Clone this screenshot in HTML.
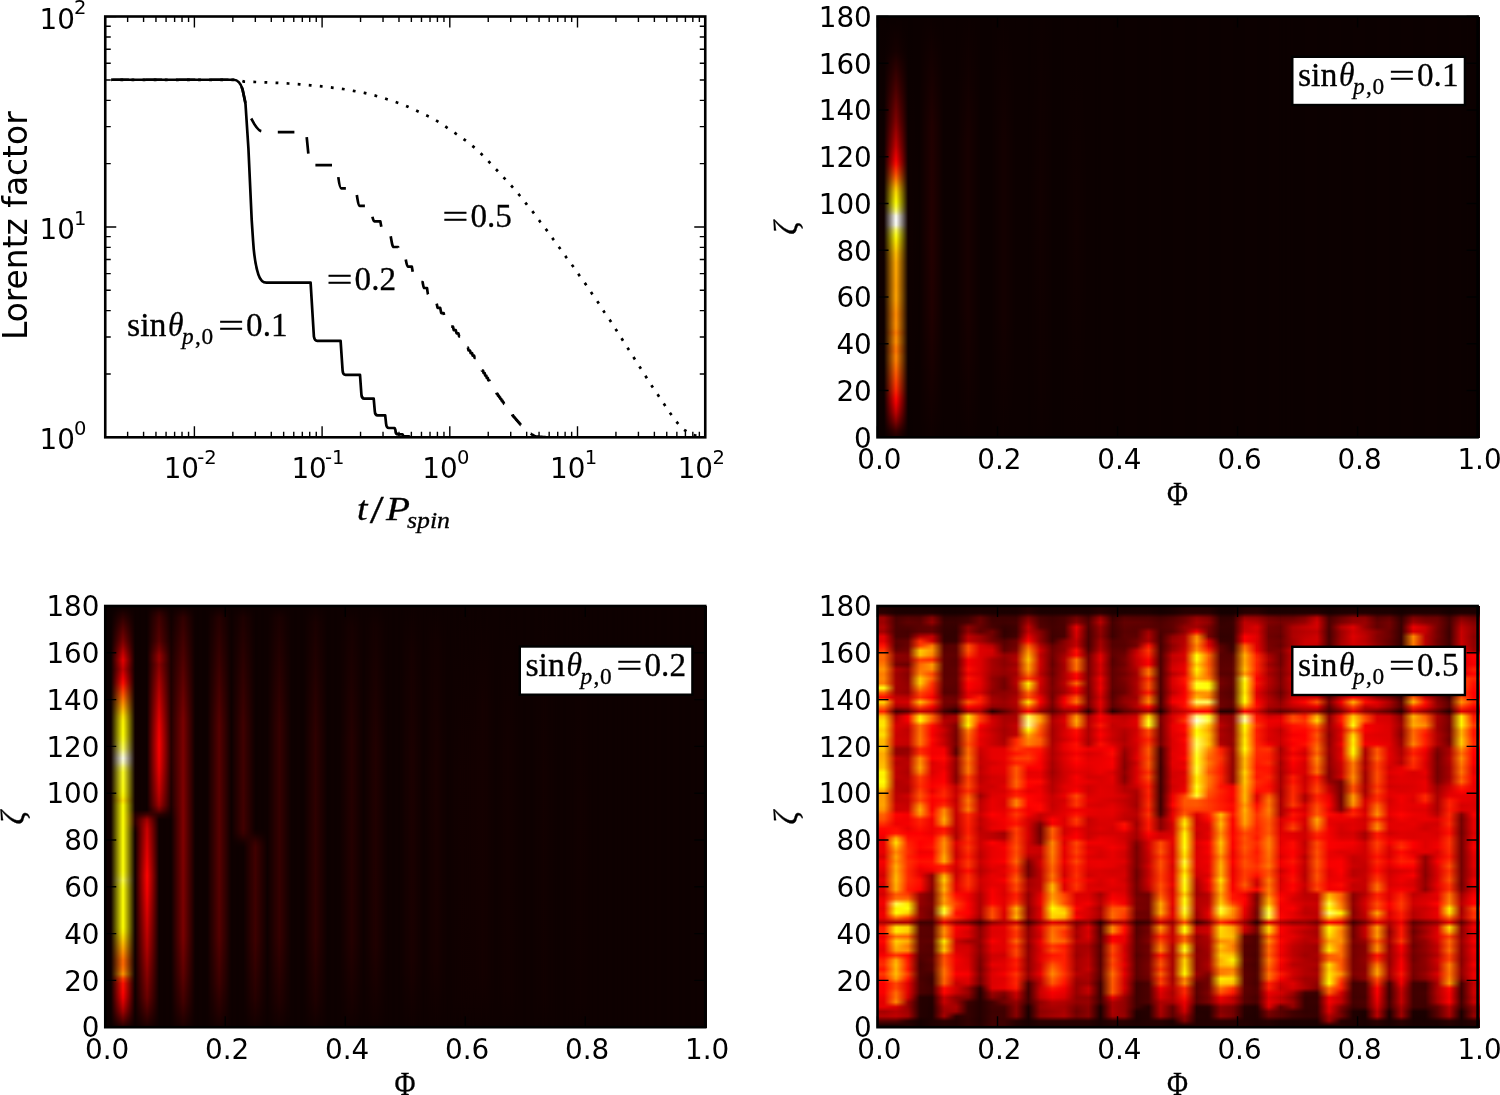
<!DOCTYPE html>
<html><head><meta charset="utf-8"><title>Lorentz factor and sky maps</title>
<style>
html,body{margin:0;padding:0;background:#fff}
body{width:1500px;height:1095px;position:relative;overflow:hidden}
.hm{position:absolute;overflow:hidden;background:#0b0000}
.hm i{position:absolute;top:0;height:100%;width:24.06px;display:block}
.la,.lb{position:absolute;top:0;height:100%}
.la{left:0;width:100%}
.lb{left:6.015px;width:620px;-webkit-mask-image:repeating-linear-gradient(90deg,transparent 0,#000 12.03px,transparent 24.06px);mask-image:repeating-linear-gradient(90deg,transparent 0,#000 12.03px,transparent 24.06px)}
svg{position:absolute;left:0;top:0}
.t{font-family:"DejaVu Sans","Liberation Sans",sans-serif;font-size:27.8px;fill:#000}
.sup{font-size:19.5px}
.l{font-family:"DejaVu Sans","Liberation Sans",sans-serif;font-size:33.3px;fill:#000}
.m{font-family:"Liberation Serif","DejaVu Serif",serif;font-size:33.3px;fill:#000;stroke:#000;stroke-width:.3px}
.mi{font-family:"Liberation Serif","DejaVu Serif",serif;font-size:33.3px;font-style:italic;fill:#000;stroke:#000;stroke-width:.3px}
.s{font-size:23.3px}
</style></head><body>
<div class="hm" style="left:877.50px;top:16.50px;width:602.60px;height:421.40px">
<div class="la">
<i style="left:-6.015px;background:linear-gradient(#0b0000 0.5556%,#0e0000 38.33%,#100000 52.78%,#0b0000 99.44%)"></i>
<i style="left:18.045px;background:linear-gradient(#0b0000 0.5556%,#0e0000 38.33%,#100000 52.78%,#0b0000 99.44%)"></i>
<i style="left:42.105px;background:linear-gradient(#0d0000 0.5556%,#1a0000 17.22%,#210000 26.11%,#240000 52.78%,#200000 70.56%,#0f0000 99.44%)"></i>
<i style="left:66.165px;background:linear-gradient(#0c0000 0.5556%,#0c0000 99.44%)"></i>
<i style="left:90.225px;background:linear-gradient(#0c0000 0.5556%,#0c0000 99.44%)"></i>
<i style="left:114.285px;background:linear-gradient(#0d0000 0.5556%,#140000 29.44%,#140000 71.67%,#0d0000 99.44%)"></i>
<i style="left:138.345px;background:linear-gradient(#0c0000 0.5556%,#0c0000 99.44%)"></i>
<i style="left:162.405px;background:linear-gradient(#0c0000 0.5556%,#0c0000 99.44%)"></i>
<i style="left:186.465px;background:linear-gradient(#0c0000 0.5556%,#100 50.56%,#0d0000 99.44%)"></i>
<i style="left:210.525px;background:linear-gradient(#0c0000 0.5556%,#0c0000 99.44%)"></i>
<i style="left:234.585px;background:linear-gradient(#0c0000 0.5556%,#0c0000 99.44%)"></i>
<i style="left:258.645px;background:linear-gradient(#0c0000 0.5556%,#0c0000 99.44%)"></i>
<i style="left:282.705px;background:linear-gradient(#0c0000 0.5556%,#0c0000 99.44%)"></i>
<i style="left:306.765px;background:linear-gradient(#0c0000 0.5556%,#0c0000 99.44%)"></i>
<i style="left:330.825px;background:linear-gradient(#0c0000 0.5556%,#0c0000 99.44%)"></i>
<i style="left:354.885px;background:linear-gradient(#0c0000 0.5556%,#0c0000 99.44%)"></i>
<i style="left:378.945px;background:linear-gradient(#0c0000 0.5556%,#0c0000 99.44%)"></i>
<i style="left:403.005px;background:linear-gradient(#0c0000 0.5556%,#0c0000 99.44%)"></i>
<i style="left:427.065px;background:linear-gradient(#0c0000 0.5556%,#0c0000 99.44%)"></i>
<i style="left:451.125px;background:linear-gradient(#0c0000 0.5556%,#0c0000 99.44%)"></i>
<i style="left:475.185px;background:linear-gradient(#0c0000 0.5556%,#0c0000 99.44%)"></i>
<i style="left:499.245px;background:linear-gradient(#0c0000 0.5556%,#0c0000 99.44%)"></i>
<i style="left:523.305px;background:linear-gradient(#0c0000 0.5556%,#0c0000 99.44%)"></i>
<i style="left:547.365px;background:linear-gradient(#0c0000 0.5556%,#0c0000 99.44%)"></i>
<i style="left:571.425px;background:linear-gradient(#0c0000 0.5556%,#0c0000 99.44%)"></i>
</div><div class="lb">
<i style="left:0.000px;background:linear-gradient(#0b0000 0.5556%,#170000 8.333%,#4c0000 17.22%,#840000 25%,#c10000 30.56%,#f50000 33.89%,#ff0e00 35%,#ff4b00 37.22%,#ff6f00 38.33%,#ffc000 40.56%,#ffdc00 41.67%,#fffd00 43.89%,#ffff2d 45%,#ffff76 46.11%,#ffffed 47.22%,#fff 48.33%,#ffffed 49.44%,#ffff64 50.56%,#ffff21 51.67%,#fff500 52.78%,#ffbd00 56.11%,#ffa900 58.33%,#ff9e00 63.89%,#ffa200 66.11%,#ffa000 67.22%,#ff8900 70.56%,#ff9000 72.78%,#ff8d00 73.89%,#ff7900 75%,#ff8b00 76.11%,#ff8f00 77.22%,#ff7900 78.33%,#ff7300 79.44%,#ff8300 80.56%,#ff7f00 81.67%,#ff2b00 88.33%,#ff0600 90.56%,#f20000 91.67%,#c10000 93.89%,#830000 96.11%,#3b0000 98.33%,#270000 99.44%)"></i>
<i style="left:24.060px;background:linear-gradient(#0c0000 0.5556%,#0c0000 99.44%)"></i>
<i style="left:48.120px;background:linear-gradient(#0c0000 0.5556%,#0c0000 99.44%)"></i>
<i style="left:72.180px;background:linear-gradient(#0d0000 0.5556%,#180000 29.44%,#180000 69.44%,#0e0000 99.44%)"></i>
<i style="left:96.240px;background:linear-gradient(#0c0000 0.5556%,#0c0000 99.44%)"></i>
<i style="left:120.300px;background:linear-gradient(#0c0000 0.5556%,#0c0000 99.44%)"></i>
<i style="left:144.360px;background:linear-gradient(#0d0000 0.5556%,#120000 42.78%,#0f0000 89.44%,#0d0000 99.44%)"></i>
<i style="left:168.420px;background:linear-gradient(#0c0000 0.5556%,#0c0000 99.44%)"></i>
<i style="left:192.480px;background:linear-gradient(#0c0000 0.5556%,#0c0000 99.44%)"></i>
<i style="left:216.540px;background:linear-gradient(#0c0000 0.5556%,#0c0000 99.44%)"></i>
<i style="left:240.600px;background:linear-gradient(#0c0000 0.5556%,#0c0000 99.44%)"></i>
<i style="left:264.660px;background:linear-gradient(#0c0000 0.5556%,#0c0000 99.44%)"></i>
<i style="left:288.720px;background:linear-gradient(#0c0000 0.5556%,#0c0000 99.44%)"></i>
<i style="left:312.780px;background:linear-gradient(#0c0000 0.5556%,#0c0000 99.44%)"></i>
<i style="left:336.840px;background:linear-gradient(#0c0000 0.5556%,#0c0000 99.44%)"></i>
<i style="left:360.900px;background:linear-gradient(#0c0000 0.5556%,#0c0000 99.44%)"></i>
<i style="left:384.960px;background:linear-gradient(#0c0000 0.5556%,#0c0000 99.44%)"></i>
<i style="left:409.020px;background:linear-gradient(#0c0000 0.5556%,#0c0000 99.44%)"></i>
<i style="left:433.080px;background:linear-gradient(#0c0000 0.5556%,#0c0000 99.44%)"></i>
<i style="left:457.140px;background:linear-gradient(#0c0000 0.5556%,#0c0000 99.44%)"></i>
<i style="left:481.200px;background:linear-gradient(#0c0000 0.5556%,#0c0000 99.44%)"></i>
<i style="left:505.260px;background:linear-gradient(#0c0000 0.5556%,#0c0000 99.44%)"></i>
<i style="left:529.320px;background:linear-gradient(#0c0000 0.5556%,#0c0000 99.44%)"></i>
<i style="left:553.380px;background:linear-gradient(#0c0000 0.5556%,#0c0000 99.44%)"></i>
<i style="left:577.440px;background:linear-gradient(#0c0000 0.5556%,#0c0000 99.44%)"></i>
</div>
<i style="left:595.485px;background:linear-gradient(#0c0000 0.5556%,#0c0000 99.44%)"></i>
</div>
<div class="hm" style="left:105.25px;top:606.00px;width:602.00px;height:421.80px">
<div class="la">
<i style="left:-6.015px;background:linear-gradient(#0b0000 0.5556%,#100000 42.78%,#0e0000 88.33%,#0b0000 99.44%)"></i>
<i style="left:18.045px;background:linear-gradient(#0e0000 0.5556%,#100000 48.33%,#240000 49.44%,#2d0000 50.56%,#280000 51.67%,#180000 52.78%,#100000 53.89%,#0e0000 99.44%)"></i>
<i style="left:42.105px;background:linear-gradient(#1a0000 0.5556%,#320000 1.667%,#410000 2.778%,#570000 8.333%,#7b0000 10.56%,#940000 11.67%,#980000 12.78%,#870000 13.89%,#ab0000 18.33%,#eb0000 28.33%,#f90000 32.78%,#f30000 36.11%,#eb0000 38.33%,#c50000 43.89%,#b00000 46.11%,#a00000 47.22%,#6f0000 48.33%,#2c0000 49.44%,#0e0000 50.56%,#0e0000 99.44%)"></i>
<i style="left:66.165px;background:linear-gradient(#150000 0.5556%,#320000 2.778%,#7a0000 27.22%,#810000 52.78%,#7a0000 78.33%,#5e0000 87.22%,#410000 93.89%,#1d0000 99.44%)"></i>
<i style="left:90.225px;background:linear-gradient(#0e0000 0.5556%,#0e0000 99.44%)"></i>
<i style="left:114.285px;background:linear-gradient(#0e0000 0.5556%,#0e0000 99.44%)"></i>
<i style="left:138.345px;background:linear-gradient(#0e0000 0.5556%,#0e0000 52.78%,#160000 53.89%,#390000 56.11%,#410000 57.22%,#3d0000 79.44%,#270000 92.78%,#150000 99.44%)"></i>
<i style="left:162.405px;background:linear-gradient(#100000 0.5556%,#1b0000 2.778%,#360000 28.33%,#360000 78.33%,#210000 93.89%,#130000 99.44%)"></i>
<i style="left:186.465px;background:linear-gradient(#0e0000 0.5556%,#0e0000 99.44%)"></i>
<i style="left:210.525px;background:linear-gradient(#0e0000 0.5556%,#0e0000 99.44%)"></i>
<i style="left:234.585px;background:linear-gradient(#0f0000 0.5556%,#170000 5%,#250000 31.67%,#240000 79.44%,#170000 95%,#100 99.44%)"></i>
<i style="left:258.645px;background:linear-gradient(#0f0000 0.5556%,#150000 5%,#200 33.89%,#200000 80.56%,#120000 98.33%,#100000 99.44%)"></i>
<i style="left:282.705px;background:linear-gradient(#0e0000 0.5556%,#0e0000 99.44%)"></i>
<i style="left:306.765px;background:linear-gradient(#0e0000 0.5556%,#0e0000 99.44%)"></i>
<i style="left:330.825px;background:linear-gradient(#0e0000 0.5556%,#0e0000 99.44%)"></i>
<i style="left:354.885px;background:linear-gradient(#0e0000 0.5556%,#130000 39.44%,#100 92.78%,#0e0000 99.44%)"></i>
<i style="left:378.945px;background:linear-gradient(#0e0000 0.5556%,#0e0000 99.44%)"></i>
<i style="left:403.005px;background:linear-gradient(#0e0000 0.5556%,#0e0000 99.44%)"></i>
<i style="left:427.065px;background:linear-gradient(#0e0000 0.5556%,#130000 39.44%,#100 92.78%,#0e0000 99.44%)"></i>
<i style="left:451.125px;background:linear-gradient(#0e0000 0.5556%,#0e0000 99.44%)"></i>
<i style="left:475.185px;background:linear-gradient(#0e0000 0.5556%,#0e0000 99.44%)"></i>
<i style="left:499.245px;background:linear-gradient(#0e0000 0.5556%,#0e0000 99.44%)"></i>
<i style="left:523.305px;background:linear-gradient(#0e0000 0.5556%,#0e0000 99.44%)"></i>
<i style="left:547.365px;background:linear-gradient(#0e0000 0.5556%,#0e0000 99.44%)"></i>
<i style="left:571.425px;background:linear-gradient(#0e0000 0.5556%,#0e0000 99.44%)"></i>
</div><div class="lb">
<i style="left:0.000px;background:linear-gradient(#120000 0.5556%,#7c0000 8.333%,#940000 9.444%,#cd0000 11.67%,#e60000 12.78%,#c10000 15%,#f20000 17.22%,#ff0e00 18.33%,#ffe300 26.11%,#fff500 27.22%,#fffe00 29.44%,#ffff05 30.56%,#ffff1b 31.67%,#ffff64 33.89%,#ffffad 35%,#ffffe8 36.11%,#ffb 37.22%,#ffff5b 38.33%,#ffff24 39.44%,#ffff0c 43.89%,#fff900 45%,#ffe000 46.11%,#ff0 47.22%,#ffff08 62.78%,#ffff1e 63.89%,#ffff48 65%,#ffff1e 66.11%,#ffff08 67.22%,#ff0 76.11%,#fff400 77.22%,#ffb000 80.56%,#ff6b00 83.89%,#ff6900 85%,#ff7900 86.11%,#ff9700 87.22%,#ff3c00 88.33%,#f10 89.44%,#ff0300 91.67%,#f20000 92.78%,#be0000 95%,#a00000 96.11%,#2f0000 99.44%)"></i>
<i style="left:24.060px;background:linear-gradient(#0e0000 0.5556%,#0e0000 48.33%,#400 49.44%,#a00000 50.56%,#bc0000 51.67%,#cd0000 52.78%,#e90000 59.44%,#ff0200 63.89%,#f70000 67.22%,#d00000 75%,#b50000 80.56%,#920000 86.11%,#6c0000 92.78%,#540000 95%,#2c0000 98.33%,#200000 99.44%)"></i>
<i style="left:48.120px;background:linear-gradient(#0f0000 0.5556%,#150000 7.222%,#1b0000 12.78%,#250000 35%,#1c0000 47.22%,#0e0000 50.56%,#0e0000 99.44%)"></i>
<i style="left:72.180px;background:linear-gradient(#0e0000 0.5556%,#0e0000 99.44%)"></i>
<i style="left:96.240px;background:linear-gradient(#120000 0.5556%,#260000 2.778%,#560000 28.33%,#590000 58.33%,#500 78.33%,#3d0000 89.44%,#260000 96.11%,#180000 99.44%)"></i>
<i style="left:120.300px;background:linear-gradient(#100 0.5556%,#1e0000 2.778%,#3f0000 28.33%,#410000 52.78%,#390000 53.89%,#160000 56.11%,#0e0000 57.22%,#0e0000 99.44%)"></i>
<i style="left:144.360px;background:linear-gradient(#0e0000 0.5556%,#0e0000 99.44%)"></i>
<i style="left:168.420px;background:linear-gradient(#0e0000 0.5556%,#0e0000 99.44%)"></i>
<i style="left:192.480px;background:linear-gradient(#100000 0.5556%,#190000 3.889%,#2e0000 30.56%,#2d0000 78.33%,#1d0000 93.89%,#120000 99.44%)"></i>
<i style="left:216.540px;background:linear-gradient(#0e0000 0.5556%,#0e0000 99.44%)"></i>
<i style="left:240.600px;background:linear-gradient(#0e0000 0.5556%,#0e0000 99.44%)"></i>
<i style="left:264.660px;background:linear-gradient(#0e0000 0.5556%,#0e0000 99.44%)"></i>
<i style="left:288.720px;background:linear-gradient(#0f0000 0.5556%,#160000 11.67%,#1c0000 35%,#1a0000 83.89%,#100000 99.44%)"></i>
<i style="left:312.780px;background:linear-gradient(#0e0000 0.5556%,#130000 8.333%,#190000 38.33%,#170000 83.89%,#0f0000 99.44%)"></i>
<i style="left:336.840px;background:linear-gradient(#0e0000 0.5556%,#130000 39.44%,#100 92.78%,#0e0000 99.44%)"></i>
<i style="left:360.900px;background:linear-gradient(#0e0000 0.5556%,#150000 23.89%,#140000 87.22%,#0f0000 99.44%)"></i>
<i style="left:384.960px;background:linear-gradient(#0e0000 0.5556%,#140000 35%,#120000 90.56%,#0f0000 99.44%)"></i>
<i style="left:409.020px;background:linear-gradient(#0e0000 0.5556%,#0e0000 99.44%)"></i>
<i style="left:433.080px;background:linear-gradient(#0e0000 0.5556%,#0e0000 99.44%)"></i>
<i style="left:457.140px;background:linear-gradient(#0e0000 0.5556%,#120000 47.22%,#100000 93.89%,#0e0000 99.44%)"></i>
<i style="left:481.200px;background:linear-gradient(#0e0000 0.5556%,#0e0000 99.44%)"></i>
<i style="left:505.260px;background:linear-gradient(#0e0000 0.5556%,#0e0000 99.44%)"></i>
<i style="left:529.320px;background:linear-gradient(#0e0000 0.5556%,#0e0000 99.44%)"></i>
<i style="left:553.380px;background:linear-gradient(#0e0000 0.5556%,#0e0000 99.44%)"></i>
<i style="left:577.440px;background:linear-gradient(#0e0000 0.5556%,#0e0000 99.44%)"></i>
</div>
<i style="left:595.485px;background:linear-gradient(#0e0000 0.5556%,#0e0000 99.44%)"></i>
</div>
<div class="hm" style="left:877.50px;top:606.00px;width:602.60px;height:421.80px">
<div class="la">
<i style="left:-6.015px;background:linear-gradient(#240000 0.5556%,#2b0000 1.667%,#9d0000 2.778%,#9c0000 3.889%,#ae0000 5%,#9f0000 6.111%,#e20000 7.222%,#e20000 8.333%,#ff1000 9.444%,#ff3600 10.56%,#ff6b00 11.67%,#f60 12.78%,#ff7a00 13.89%,#ff9500 15%,#ff7d00 16.11%,#ff8700 17.22%,#ff7a00 18.33%,#ff1 19.44%,#ff5f00 20.56%,#ff0a00 21.67%,#ffd900 22.78%,#ff7400 23.89%,#ff2300 25%,#ffb700 26.11%,#ffe100 27.22%,#ffe700 28.33%,#ffcd00 29.44%,#ffde00 30.56%,#ffbc00 31.67%,#ffb700 32.78%,#ffc700 33.89%,#fa0 35%,#ffaf00 36.11%,#ffc200 38.33%,#fff600 39.44%,#fff100 40.56%,#ffff04 41.67%,#ffe900 42.78%,#ffab00 43.89%,#ff9d00 45%,#ffa300 47.22%,#ff9200 48.33%,#ff6000 49.44%,#ff5200 50.56%,#ff0700 52.78%,#fd0000 53.89%,#e00 55%,#e90000 58.33%,#d50000 59.44%,#f70000 60.56%,#ef0000 61.67%,#d20000 63.89%,#e70000 65%,#d70000 66.11%,#e10000 67.22%,#d40000 68.33%,#ed0000 69.44%,#f30000 70.56%,#e50000 71.67%,#f00000 72.78%,#ec0000 73.89%,#ab0000 75%,#ff1600 76.11%,#ff1f00 77.22%,#f10000 78.33%,#ff0600 79.44%,#f20000 80.56%,#e80000 81.67%,#f90000 82.78%,#ff1e00 83.89%,#ff2c00 85%,#ff1200 86.11%,#ff3b00 87.22%,#ff1a00 88.33%,#fc0000 89.44%,#fb0000 91.67%,#ec0000 92.78%,#e30000 93.89%,#e70000 95%,#a40000 96.11%,#b80000 97.22%,#590000 98.33%,#1b0000 99.44%)"></i>
<i style="left:18.045px;background:linear-gradient(#1a0000 0.5556%,#1d0000 1.667%,#530000 2.778%,#5f0000 3.889%,#500000 5%,#460000 6.111%,#4a0000 7.222%,#650000 8.333%,#680000 9.444%,#730000 10.56%,#800 11.67%,#870000 12.78%,#6b0000 13.89%,#950000 15%,#800 16.11%,#970000 19.44%,#920000 20.56%,#bd0000 21.67%,#d50000 22.78%,#b30000 23.89%,#5b0000 25%,#f90000 26.11%,#f50000 27.22%,#d40000 28.33%,#c00000 29.44%,#c80000 31.67%,#c30000 32.78%,#940000 33.89%,#9b0000 35%,#b10000 36.11%,#ba0000 37.22%,#af0000 39.44%,#bd0000 41.67%,#b40000 42.78%,#b00000 43.89%,#d00000 45%,#c30000 46.11%,#c70000 47.22%,#d00000 48.33%,#f80000 49.44%,#f20000 50.56%,#f60000 51.67%,#e90000 52.78%,#fb0000 53.89%,#ff0d00 55%,#f20 56.11%,#ff2e00 58.33%,#f20 59.44%,#ff3100 60.56%,#ff2f00 61.67%,#ff2700 62.78%,#ff2b00 65%,#ff1b00 67.22%,#ff3800 68.33%,#ff6900 69.44%,#ffe900 70.56%,#ffff08 71.67%,#ffd300 72.78%,#ff3d00 73.89%,#ab0000 75%,#ffd500 76.11%,#ffcd00 77.22%,#ff5e00 78.33%,#ffaf00 79.44%,#f70 80.56%,#ff8d00 81.67%,#f00 82.78%,#ff1500 83.89%,#ff1d00 85%,#ff1300 86.11%,#ff3e00 87.22%,#ff1300 88.33%,#e10000 89.44%,#e30000 90.56%,#e00000 91.67%,#d40000 92.78%,#9a0000 93.89%,#950000 95%,#a80000 97.22%,#2b0000 98.33%,#260000 99.44%)"></i>
<i style="left:42.105px;background:linear-gradient(#1a0000 0.5556%,#1f0000 1.667%,#840000 2.778%,#950000 3.889%,#640000 5%,#600000 6.111%,#c10000 7.222%,#cf0000 8.333%,#ff7e00 9.444%,#f90 10.56%,#ff8300 11.67%,#ff2700 12.78%,#ff9b00 13.89%,#ff8e00 15%,#ff4300 16.11%,#ff6400 17.22%,#ff3200 18.33%,#ff1500 20.56%,#fb0000 21.67%,#ff4300 22.78%,#f80000 23.89%,#ab0000 25%,#ff6800 26.11%,#ff5f00 27.22%,#ff0b00 28.33%,#fd0000 29.44%,#f80000 30.56%,#ff0800 31.67%,#f90000 32.78%,#f30000 35%,#fd0000 36.11%,#dc0000 37.22%,#e30000 38.33%,#dc0000 39.44%,#f30000 41.67%,#fa0000 42.78%,#e60000 43.89%,#ff0900 45%,#fa0000 46.11%,#f90000 48.33%,#ff0f00 49.44%,#f20000 50.56%,#ed0000 53.89%,#ff0100 55%,#ff1200 57.22%,#f50000 58.33%,#ff0300 59.44%,#ff1200 60.56%,#ff0900 61.67%,#e00 62.78%,#8b0000 63.89%,#8e0000 66.11%,#850000 67.22%,#740000 68.33%,#750000 69.44%,#7b0000 70.56%,#760000 71.67%,#6d0000 72.78%,#710000 73.89%,#400000 75%,#560000 76.11%,#5a0000 77.22%,#570000 78.33%,#600000 79.44%,#540000 80.56%,#580000 81.67%,#530000 82.78%,#5f0000 83.89%,#560000 85%,#580000 86.11%,#450000 87.22%,#3d0000 88.33%,#3d0000 89.44%,#430000 90.56%,#3f0000 91.67%,#230000 92.78%,#1f0000 96.11%,#200000 99.44%)"></i>
<i style="left:66.165px;background:linear-gradient(#150000 0.5556%,#170000 1.667%,#300 2.778%,#3a0000 3.889%,#300 6.111%,#350000 8.333%,#5b0000 9.444%,#5a0000 10.56%,#5f0000 11.67%,#580000 12.78%,#590000 13.89%,#5f0000 15%,#5d0000 16.11%,#600000 17.22%,#580000 20.56%,#6c0000 21.67%,#760000 22.78%,#590000 23.89%,#1b0000 25%,#a60000 26.11%,#a40000 27.22%,#810000 28.33%,#790000 29.44%,#750000 31.67%,#7a0000 32.78%,#5f0000 33.89%,#5c0000 35%,#900 36.11%,#8f0000 37.22%,#8f0000 38.33%,#860000 40.56%,#8d0000 41.67%,#c30000 42.78%,#c30000 43.89%,#cd0000 45%,#c00000 46.11%,#ca0000 47.22%,#bf0000 51.67%,#b00000 53.89%,#b00000 55%,#e00000 56.11%,#cb0000 58.33%,#c80000 59.44%,#e20000 60.56%,#c90000 62.78%,#ca0000 63.89%,#e20000 66.11%,#e00000 67.22%,#ff0900 68.33%,#ff1f00 69.44%,#ff4100 70.56%,#ff3000 71.67%,#ff0d00 72.78%,#ff2000 73.89%,#900000 75%,#fa0000 76.11%,#ec0000 78.33%,#c60000 79.44%,#d30000 80.56%,#da0000 81.67%,#ea0000 82.78%,#f50000 83.89%,#ec0000 86.11%,#ff0100 87.22%,#c70000 89.44%,#d10000 90.56%,#c80000 91.67%,#8c0000 92.78%,#960000 93.89%,#ad0000 95%,#9f0000 96.11%,#2f0000 97.22%,#250000 98.33%,#250000 99.44%)"></i>
<i style="left:90.225px;background:linear-gradient(#1a0000 0.5556%,#1f0000 1.667%,#650000 2.778%,#6c0000 3.889%,#5d0000 6.111%,#9e0000 7.222%,#a30000 8.333%,#d90000 9.444%,#df0000 10.56%,#de0000 15%,#d90000 16.11%,#e50000 17.22%,#e80000 18.33%,#e10000 19.44%,#d30000 20.56%,#ff1900 21.67%,#ff1f00 22.78%,#e40000 23.89%,#ab0000 25%,#ff3a00 26.11%,#ff3c00 27.22%,#ff0200 28.33%,#e70000 29.44%,#f00000 30.56%,#e50000 31.67%,#e90000 32.78%,#cf0000 33.89%,#c20000 36.11%,#c70000 37.22%,#bc0000 38.33%,#c40000 39.44%,#b00 40.56%,#bf0000 41.67%,#cd0000 42.78%,#c10000 43.89%,#9e0000 45%,#ba0000 46.11%,#c20000 47.22%,#c10000 48.33%,#cf0000 49.44%,#bd0000 50.56%,#c30000 51.67%,#b70000 52.78%,#c10000 53.89%,#c00 56.11%,#c00 57.22%,#c10000 58.33%,#bc0000 59.44%,#cb0000 60.56%,#b60000 62.78%,#c00000 63.89%,#d10000 65%,#c40000 67.22%,#b10000 68.33%,#ae0000 70.56%,#af0000 72.78%,#9f0000 73.89%,#400000 75%,#860000 76.11%,#900000 77.22%,#8d0000 78.33%,#960000 79.44%,#890000 80.56%,#8f0000 81.67%,#7c0000 83.89%,#7a0000 85%,#730000 86.11%,#810000 87.22%,#740000 88.33%,#740000 89.44%,#2d0000 90.56%,#250000 91.67%,#250000 97.22%,#230000 98.33%,#270000 99.44%)"></i>
<i style="left:114.285px;background:linear-gradient(#1a0000 0.5556%,#1c0000 1.667%,#3d0000 2.778%,#400000 3.889%,#360000 5%,#320000 6.111%,#350000 7.222%,#500 8.333%,#620000 10.56%,#950000 11.67%,#8d0000 12.78%,#8b0000 13.89%,#950000 15%,#920000 16.11%,#700 17.22%,#720000 18.33%,#720000 19.44%,#8d0000 20.56%,#920000 21.67%,#9d0000 22.78%,#950000 23.89%,#5b0000 25%,#a30000 26.11%,#ab0000 27.22%,#ac0000 28.33%,#a50000 29.44%,#a00 31.67%,#b30000 32.78%,#e60000 33.89%,#ec0000 36.11%,#e50000 37.22%,#e70000 38.33%,#e30000 39.44%,#da0000 40.56%,#d60000 41.67%,#e30000 42.78%,#d80000 43.89%,#e50000 45%,#d00 46.11%,#dc0000 47.22%,#ef0000 49.44%,#f60000 50.56%,#ef0000 52.78%,#a20000 53.89%,#ad0000 55%,#e50000 56.11%,#f90000 57.22%,#f20000 58.33%,#f30000 59.44%,#fd0000 60.56%,#e00000 61.67%,#e90000 62.78%,#e00000 63.89%,#f90000 65%,#e30000 66.11%,#da0000 68.33%,#e30000 69.44%,#e40000 71.67%,#da0000 72.78%,#da0000 73.89%,#ab0000 75%,#e50000 76.11%,#e10000 77.22%,#e40000 78.33%,#e10000 79.44%,#e30000 80.56%,#de0000 81.67%,#cd0000 82.78%,#de0000 83.89%,#e50000 85%,#e30000 86.11%,#f70000 87.22%,#e10000 88.33%,#ea0000 90.56%,#840000 91.67%,#6d0000 92.78%,#750000 93.89%,#470000 95%,#400000 96.11%,#410000 97.22%,#3c0000 98.33%,#3d0000 99.44%)"></i>
<i style="left:138.345px;background:linear-gradient(#260000 0.5556%,#2b0000 1.667%,#7f0000 2.778%,#9c0000 3.889%,#c00000 5%,#bc0000 6.111%,#e30000 7.222%,#ff0600 8.333%,#ff5b00 9.444%,#f80 10.56%,#ffc500 12.78%,#ffa100 13.89%,#ffa100 15%,#ff7200 16.11%,#ff3700 17.22%,#fff100 18.33%,#ffc200 19.44%,#ff5f00 20.56%,#ff4b00 21.67%,#ffea00 22.78%,#ff6200 23.89%,#fc0000 25%,#ffff4b 26.11%,#ffff82 27.22%,#ffff90 28.33%,#fffe00 29.44%,#ffa500 30.56%,#ff8600 31.67%,#ff7f00 32.78%,#ff2000 33.89%,#ff2b00 35%,#ff3f00 36.11%,#fc0000 38.33%,#e50000 39.44%,#ed0000 40.56%,#ff0700 41.67%,#fd0000 42.78%,#e70000 43.89%,#ff0200 45%,#ff0600 46.11%,#ff0300 47.22%,#f40000 48.33%,#f80000 49.44%,#d70000 50.56%,#d20000 52.78%,#d70000 53.89%,#d50000 55%,#ce0000 56.11%,#d00000 58.33%,#b50000 59.44%,#850000 60.56%,#730000 61.67%,#750000 63.89%,#a70000 65%,#a30000 66.11%,#ac0000 67.22%,#930000 68.33%,#980000 69.44%,#970000 70.56%,#8c0000 71.67%,#890000 72.78%,#920000 73.89%,#400000 75%,#8a0000 76.11%,#920000 77.22%,#910000 78.33%,#9b0000 79.44%,#800 80.56%,#910000 81.67%,#920000 82.78%,#8e0000 83.89%,#930000 85%,#8e0000 86.11%,#9e0000 87.22%,#890000 88.33%,#470000 89.44%,#3f0000 91.67%,#420000 93.89%,#1c0000 95%,#190000 98.33%,#1b0000 99.44%)"></i>
<i style="left:162.405px;background:linear-gradient(#1a0000 0.5556%,#1d0000 1.667%,#3e0000 2.778%,#400 5%,#3e0000 7.222%,#420000 8.333%,#650000 9.444%,#6f0000 10.56%,#700000 11.67%,#650000 13.89%,#6f0000 15%,#680000 16.11%,#700 17.22%,#760000 18.33%,#7c0000 19.44%,#750000 20.56%,#730000 21.67%,#7e0000 22.78%,#740000 23.89%,#5b0000 25%,#9b0000 26.11%,#b20000 27.22%,#a50000 29.44%,#a50000 30.56%,#b00000 33.89%,#ac0000 35%,#b00000 36.11%,#a70000 37.22%,#a70000 38.33%,#9f0000 39.44%,#b20000 41.67%,#b60000 43.89%,#c70000 45%,#c90000 46.11%,#c50000 47.22%,#c00 48.33%,#d80000 49.44%,#ff0200 50.56%,#f70000 51.67%,#ff6300 52.78%,#ff5700 55%,#ff8900 56.11%,#ff8000 57.22%,#ff8300 58.33%,#ff7a00 59.44%,#ff7600 60.56%,#ff6700 61.67%,#ff6200 62.78%,#ff7600 63.89%,#ff6a00 65%,#ffb200 66.11%,#ffba00 67.22%,#ff9700 68.33%,#ffa000 69.44%,#ffc800 70.56%,#ffff01 71.67%,#ffe000 72.78%,#ffcf00 73.89%,#e10000 75%,#ff6a00 76.11%,#ff7300 77.22%,#ff7f00 79.44%,#f30 80.56%,#ff4e00 81.67%,#ff1500 82.78%,#ff2b00 83.89%,#ff5600 85%,#ff7300 86.11%,#ff8a00 87.22%,#ff6700 88.33%,#ff5600 89.44%,#ff1600 90.56%,#f80000 91.67%,#ea0000 92.78%,#b90000 93.89%,#9d0000 96.11%,#a70000 97.22%,#2d0000 98.33%,#240000 99.44%)"></i>
<i style="left:186.465px;background:linear-gradient(#1b0000 0.5556%,#1f0000 1.667%,#710000 2.778%,#870000 3.889%,#e90000 5%,#da0000 6.111%,#d40000 7.222%,#c10000 8.333%,#c40000 9.444%,#ff0c00 10.56%,#ff0600 11.67%,#ff7900 12.78%,#ff6f00 13.89%,#ff6d00 15%,#ff0900 16.11%,#fd0000 17.22%,#ff6a00 18.33%,#ff0600 19.44%,#ea0000 20.56%,#ff5200 21.67%,#ff7600 22.78%,#ea0000 23.89%,#ab0000 25%,#ff8e00 26.11%,#ffa900 27.22%,#ff9000 28.33%,#ff0e00 29.44%,#ff0500 30.56%,#f70000 31.67%,#ff0f00 32.78%,#ff0a00 33.89%,#f60000 35%,#ff0a00 36.11%,#ff0100 37.22%,#e50000 39.44%,#fa0000 40.56%,#e00 42.78%,#ff0100 43.89%,#ff4a00 45%,#ff3400 46.11%,#ff3700 47.22%,#f30000 48.33%,#ff1300 49.44%,#ff3b00 50.56%,#ff2f00 51.67%,#e80000 52.78%,#f90000 53.89%,#ff0100 55%,#ff4800 56.11%,#ff3b00 57.22%,#ff4300 58.33%,#ff2c00 59.44%,#ff4800 60.56%,#ff2a00 61.67%,#ff2800 62.78%,#ff3100 63.89%,#ff2600 65%,#ff3500 66.11%,#ff2a00 67.22%,#db0000 68.33%,#e70000 70.56%,#ff0500 71.67%,#e70000 72.78%,#fe0000 73.89%,#760000 75%,#a00000 76.11%,#ad0000 77.22%,#a40000 78.33%,#bc0000 79.44%,#a30000 80.56%,#a30000 81.67%,#9c0000 82.78%,#a60000 83.89%,#a90000 85%,#a40000 86.11%,#ba0000 87.22%,#a10000 88.33%,#960000 89.44%,#980000 91.67%,#8f0000 92.78%,#930000 93.89%,#7a0000 95%,#6e0000 96.11%,#790000 97.22%,#2a0000 98.33%,#260000 99.44%)"></i>
<i style="left:210.525px;background:linear-gradient(#240000 0.5556%,#2a0000 1.667%,#9d0000 2.778%,#b90000 3.889%,#900 5%,#8e0000 7.222%,#a20000 8.333%,#a70000 9.444%,#b50000 10.56%,#df0000 11.67%,#e50000 12.78%,#d40000 13.89%,#d90000 15%,#ce0000 16.11%,#f20000 17.22%,#e70000 18.33%,#f00000 19.44%,#d20000 21.67%,#e50000 22.78%,#df0000 23.89%,#c60000 25%,#fe0000 26.11%,#f40000 27.22%,#ff1500 28.33%,#f10000 29.44%,#f00 30.56%,#ef0000 31.67%,#ff0d00 32.78%,#f10000 33.89%,#e30000 35%,#eb0000 36.11%,#ef0000 38.33%,#ec0000 39.44%,#d80000 40.56%,#e30000 43.89%,#e20000 45%,#d60000 47.22%,#e40000 48.33%,#e20000 49.44%,#d80000 51.67%,#df0000 52.78%,#d30000 53.89%,#e90000 55%,#f10000 56.11%,#e10000 57.22%,#d90000 58.33%,#d60000 59.44%,#ed0000 60.56%,#ec0000 61.67%,#da0000 62.78%,#de0000 63.89%,#d40000 66.11%,#df0000 67.22%,#a40000 68.33%,#b30000 69.44%,#b90000 70.56%,#a30000 71.67%,#ac0000 72.78%,#a30000 73.89%,#250000 75%,#580000 76.11%,#500 77.22%,#580000 78.33%,#620000 79.44%,#500 80.56%,#5b0000 81.67%,#560000 82.78%,#590000 83.89%,#570000 85%,#5c0000 86.11%,#5b0000 87.22%,#530000 88.33%,#3f0000 89.44%,#3d0000 92.78%,#410000 93.89%,#1c0000 95%,#1a0000 99.44%)"></i>
<i style="left:234.585px;background:linear-gradient(#190000 0.5556%,#1e0000 1.667%,#560000 2.778%,#630000 3.889%,#590000 6.111%,#5d0000 7.222%,#570000 9.444%,#610000 10.56%,#700000 11.67%,#780000 12.78%,#710000 13.89%,#7e0000 15%,#710000 16.11%,#800000 17.22%,#700 18.33%,#6c0000 20.56%,#8c0000 21.67%,#950000 22.78%,#800000 23.89%,#5b0000 25%,#b80000 26.11%,#c70000 27.22%,#c00 28.33%,#b40000 29.44%,#ad0000 30.56%,#ab0000 31.67%,#b40000 32.78%,#9f0000 33.89%,#920000 35%,#870000 38.33%,#920000 39.44%,#800 40.56%,#8e0000 41.67%,#b10000 42.78%,#b70000 43.89%,#d00000 45%,#c00000 46.11%,#cf0000 48.33%,#c50000 49.44%,#c10000 50.56%,#ff1000 51.67%,#ff0500 52.78%,#d40000 53.89%,#ce0000 55%,#e00000 57.22%,#d30000 58.33%,#d10000 59.44%,#e00000 60.56%,#d00000 61.67%,#d80000 63.89%,#cf0000 65%,#da0000 66.11%,#d70000 67.22%,#df0000 68.33%,#ec0000 69.44%,#f40000 70.56%,#ff4d00 71.67%,#f30 73.89%,#ab0000 75%,#f10 76.11%,#ff0b00 77.22%,#ea0000 78.33%,#e80000 79.44%,#d50000 80.56%,#d20000 81.67%,#db0000 82.78%,#d60000 83.89%,#e70000 85%,#d50000 86.11%,#e70000 87.22%,#d40000 88.33%,#ce0000 89.44%,#d60000 90.56%,#c10000 91.67%,#980000 92.78%,#920000 93.89%,#910000 96.11%,#980000 97.22%,#2b0000 98.33%,#240000 99.44%)"></i>
<i style="left:258.645px;background:linear-gradient(#1a0000 0.5556%,#1e0000 1.667%,#510000 2.778%,#5d0000 3.889%,#5d0000 5%,#a10000 6.111%,#af0000 7.222%,#a90000 8.333%,#ff1200 9.444%,#ff3600 10.56%,#f20 11.67%,#ff0400 12.78%,#fc0000 13.89%,#ff6a00 15%,#ff7500 16.11%,#ff2b00 17.22%,#ff4c00 18.33%,#ff4e00 19.44%,#ff1600 20.56%,#ff6900 21.67%,#ff8700 22.78%,#ff0700 23.89%,#ab0000 25%,#ffd300 26.11%,#ffff18 27.22%,#ffff16 28.33%,#ff4800 29.44%,#ff4300 30.56%,#f20 31.67%,#ff3a00 32.78%,#ff5800 33.89%,#f50 35%,#ff4700 36.11%,#ff5600 37.22%,#ff4e00 38.33%,#ff2d00 39.44%,#ff4d00 40.56%,#ff3000 41.67%,#ff1900 42.78%,#ff2500 43.89%,#ff1d00 45%,#ff2f00 47.22%,#ff1e00 48.33%,#f30 49.44%,#ff1e00 50.56%,#ff1600 51.67%,#ff1900 52.78%,#ff0300 53.89%,#eb0000 55%,#d10000 56.11%,#d60000 57.22%,#cb0000 58.33%,#c30000 60.56%,#d20000 61.67%,#c20000 62.78%,#c20000 63.89%,#cd0000 65%,#c70000 66.11%,#b80000 67.22%,#710000 68.33%,#760000 69.44%,#740000 71.67%,#6d0000 72.78%,#6e0000 73.89%,#400000 75%,#760000 76.11%,#710000 77.22%,#820000 79.44%,#6e0000 80.56%,#730000 81.67%,#6e0000 82.78%,#790000 85%,#750000 87.22%,#6b0000 88.33%,#4b0000 89.44%,#4e0000 90.56%,#4c0000 92.78%,#4f0000 93.89%,#260000 95%,#240000 99.44%)"></i>
<i style="left:282.705px;background:linear-gradient(#1a0000 0.5556%,#1d0000 1.667%,#520000 2.778%,#5e0000 3.889%,#5f0000 5%,#5b0000 6.111%,#8f0000 7.222%,#a00000 8.333%,#8f0000 9.444%,#9c0000 10.56%,#c80000 11.67%,#c00000 12.78%,#d70000 15%,#b70000 16.11%,#d80000 17.22%,#d80000 18.33%,#d00000 19.44%,#bf0000 20.56%,#e00000 21.67%,#f40000 22.78%,#c30000 23.89%,#ab0000 25%,#db0000 26.11%,#da0000 27.22%,#ea0000 28.33%,#e20000 30.56%,#db0000 31.67%,#dc0000 33.89%,#e40000 35%,#de0000 36.11%,#e50000 37.22%,#d50000 39.44%,#d10000 40.56%,#d90000 41.67%,#cf0000 42.78%,#d70000 43.89%,#ef0000 45%,#f00000 46.11%,#ff0300 47.22%,#db0000 48.33%,#e90000 49.44%,#e60000 50.56%,#d20000 51.67%,#d50000 53.89%,#e50000 55%,#e50000 56.11%,#d80000 58.33%,#da0000 59.44%,#e50000 60.56%,#d70000 61.67%,#e40000 63.89%,#e00000 65%,#ed0000 66.11%,#d70000 67.22%,#e70000 70.56%,#d90000 71.67%,#e30000 72.78%,#dc0000 73.89%,#900000 75%,#bd0000 76.11%,#c60000 79.44%,#ad0000 80.56%,#a30000 82.78%,#a70000 85%,#a40000 86.11%,#ab0000 87.22%,#a10000 88.33%,#b40000 90.56%,#a80000 91.67%,#af0000 92.78%,#a60000 93.89%,#610000 95%,#5d0000 97.22%,#1c0000 98.33%,#1b0000 99.44%)"></i>
<i style="left:306.765px;background:linear-gradient(#260000 0.5556%,#2a0000 1.667%,#960000 2.778%,#a90000 3.889%,#a40000 5%,#f50000 6.111%,#ff8d00 7.222%,#ff9e00 8.333%,#ff7e00 9.444%,#ff9400 10.56%,#ffff05 11.67%,#ffff0c 12.78%,#ffce00 13.89%,#fff700 15%,#ffda00 16.11%,#ffad00 17.22%,#ff2 18.33%,#ffff0c 19.44%,#ff9100 20.56%,#ffb500 21.67%,#ffff69 22.78%,#ff8b00 23.89%,#fc0000 25%,#ffff82 26.11%,#ffffdc 27.22%,#ffff64 28.33%,#fffb00 29.44%,#ffff0c 30.56%,#ffff49 31.67%,#ffff5f 32.78%,#ffff47 33.89%,#ffff27 35%,#ffff15 36.11%,#ffff17 37.22%,#ffff2e 38.33%,#ffff23 39.44%,#ffe800 40.56%,#ffea00 41.67%,#ffff19 42.78%,#fffc00 43.89%,#ff3 45%,#ff5900 46.11%,#ff5900 47.22%,#ff4000 48.33%,#db0000 49.44%,#d00000 50.56%,#c00 51.67%,#d50000 52.78%,#c70000 53.89%,#cf0000 55%,#e20000 56.11%,#d80000 57.22%,#d00 58.33%,#e10000 61.67%,#d40000 62.78%,#d00000 63.89%,#b50000 65%,#a00000 68.33%,#b00000 69.44%,#b20000 70.56%,#ae0000 71.67%,#a00000 72.78%,#9f0000 73.89%,#400000 75%,#b80000 76.11%,#bf0000 77.22%,#910000 78.33%,#900 79.44%,#870000 81.67%,#8f0000 82.78%,#8a0000 83.89%,#8a0000 86.11%,#9d0000 87.22%,#810000 88.33%,#5f0000 89.44%,#5a0000 90.56%,#5d0000 91.67%,#570000 92.78%,#5c0000 93.89%,#290000 95%,#250000 96.11%,#280000 97.22%,#230000 98.33%,#240000 99.44%)"></i>
<i style="left:330.825px;background:linear-gradient(#150000 0.5556%,#160000 1.667%,#310000 2.778%,#390000 5%,#320000 7.222%,#370000 8.333%,#570000 9.444%,#600000 10.56%,#570000 11.67%,#5e0000 15%,#580000 16.11%,#6d0000 17.22%,#750000 18.33%,#620000 20.56%,#6c0000 22.78%,#6d0000 23.89%,#250000 25%,#9c0000 26.11%,#a70000 27.22%,#b00 28.33%,#a60000 29.44%,#ae0000 30.56%,#a70000 31.67%,#b30000 32.78%,#ff2000 33.89%,#ff2700 35%,#ff3600 36.11%,#ff1d00 38.33%,#ff1a00 39.44%,#ff2500 40.56%,#ff2000 41.67%,#ff1300 42.78%,#ff2500 43.89%,#ff1c00 45%,#ff1900 46.11%,#ff1f00 47.22%,#ff1f00 48.33%,#ffc400 49.44%,#ffa200 50.56%,#ffbe00 51.67%,#ff8e00 53.89%,#ffa500 55%,#ffc800 56.11%,#ffb700 57.22%,#ffb100 58.33%,#ff8900 59.44%,#ffa900 60.56%,#ffb500 61.67%,#ffad00 63.89%,#ffe900 65%,#ffbe00 66.11%,#ffc100 67.22%,#ff9e00 68.33%,#ffcb00 70.56%,#ffff36 71.67%,#ffff1b 72.78%,#ffa700 73.89%,#ff2300 75%,#ffda00 76.11%,#ffd700 77.22%,#ffd000 78.33%,#ff8e00 79.44%,#ffc900 80.56%,#ffaf00 81.67%,#ffcf00 82.78%,#ffb500 83.89%,#fb0 85%,#ff7c00 86.11%,#ff7c00 87.22%,#ffef00 88.33%,#ffd000 89.44%,#ff7200 90.56%,#ff5000 91.67%,#ed0000 92.78%,#d90000 93.89%,#8e0000 95%,#800 96.11%,#950000 97.22%,#2b0000 98.33%,#240000 99.44%)"></i>
<i style="left:354.885px;background:linear-gradient(#240000 0.5556%,#2a0000 1.667%,#9c0000 2.778%,#bf0000 3.889%,#c30000 5%,#c00 6.111%,#fc0000 7.222%,#fb0000 8.333%,#ff6700 9.444%,#ff8300 10.56%,#ffb200 11.67%,#ffa800 12.78%,#ffac00 13.89%,#ffc000 15%,#ff9600 16.11%,#ffff29 17.22%,#fff800 18.33%,#fff700 19.44%,#ffe900 20.56%,#ffff03 21.67%,#ffff04 22.78%,#ff9600 23.89%,#fc0000 25%,#ffff69 26.11%,#ffa 27.22%,#ff0 28.33%,#fff400 29.44%,#ffe000 30.56%,#ffef00 31.67%,#ffec00 32.78%,#ffff07 33.89%,#fd0 35%,#ffbc00 36.11%,#ffbe00 37.22%,#ffba00 38.33%,#ffd900 39.44%,#ffc300 40.56%,#ffc900 41.67%,#ffbc00 42.78%,#ffb600 43.89%,#ffb900 45%,#ffb700 46.11%,#ff9a00 47.22%,#ffb500 48.33%,#ffa800 49.44%,#ffa700 50.56%,#ff9f00 51.67%,#ff7000 52.78%,#ff4600 53.89%,#ff5600 55%,#ff4f00 56.11%,#ff5a00 57.22%,#ff5000 58.33%,#ff4100 59.44%,#ff5100 60.56%,#ff4e00 61.67%,#ff3d00 62.78%,#ff3d00 63.89%,#ff4500 65%,#ff5c00 66.11%,#ff3600 67.22%,#f10000 68.33%,#ff0400 69.44%,#fd0000 70.56%,#eb0000 71.67%,#e60000 72.78%,#d60000 73.89%,#900000 75%,#cf0000 76.11%,#be0000 77.22%,#5c0000 78.33%,#610000 79.44%,#540000 80.56%,#580000 81.67%,#500 82.78%,#5e0000 83.89%,#500 85%,#5d0000 87.22%,#5b0000 89.44%,#5f0000 90.56%,#570000 92.78%,#580000 93.89%,#290000 95%,#230000 98.33%,#260000 99.44%)"></i>
<i style="left:378.945px;background:linear-gradient(#1a0000 0.5556%,#1e0000 1.667%,#710000 2.778%,#810000 3.889%,#760000 5%,#6f0000 7.222%,#760000 8.333%,#7d0000 10.56%,#a50000 11.67%,#b30000 12.78%,#9f0000 13.89%,#b40000 15%,#a50000 16.11%,#b70000 17.22%,#b60000 18.33%,#ad0000 19.44%,#9c0000 20.56%,#ae0000 21.67%,#b70000 22.78%,#ab0000 23.89%,#760000 25%,#d00000 26.11%,#e00 27.22%,#ea0000 28.33%,#dc0000 29.44%,#de0000 30.56%,#d90000 31.67%,#f30000 32.78%,#ff3600 33.89%,#f20 35%,#ff1e00 36.11%,#ff2b00 37.22%,#ff1300 38.33%,#ff1400 39.44%,#ff2500 40.56%,#ff1500 41.67%,#ff0a00 42.78%,#ff1600 43.89%,#ff5c00 45%,#ff7900 46.11%,#ff7100 47.22%,#ff8200 48.33%,#ff7500 49.44%,#ff6100 50.56%,#ff5800 51.67%,#ff5d00 52.78%,#ff5700 53.89%,#ff7800 55%,#ff8200 56.11%,#ff8000 57.22%,#ff7500 58.33%,#ff6900 60.56%,#ff7900 61.67%,#ff5200 62.78%,#ff5900 63.89%,#ff7f00 65%,#ff6c00 66.11%,#ff7f00 67.22%,#ff7600 68.33%,#ffa700 69.44%,#ffb500 70.56%,#ff2 71.67%,#ff5 72.78%,#ffff2c 73.89%,#e10000 75%,#ffd900 76.11%,#ffd100 77.22%,#ff5a00 78.33%,#ff9000 79.44%,#ff6000 80.56%,#ff6c00 81.67%,#ff5a00 82.78%,#ff7f00 83.89%,#ff6e00 85%,#ff5800 86.11%,#ff7300 87.22%,#ff6900 88.33%,#ff1a00 89.44%,#ff1f00 90.56%,#ed0000 91.67%,#db0000 92.78%,#e80000 93.89%,#df0000 95%,#7d0000 96.11%,#720000 97.22%,#280000 98.33%,#240000 99.44%)"></i>
<i style="left:403.005px;background:linear-gradient(#1a0000 0.5556%,#1f0000 1.667%,#690000 2.778%,#850000 3.889%,#ae0000 5%,#ab0000 6.111%,#ae0000 7.222%,#a50000 8.333%,#a50000 9.444%,#d20000 10.56%,#c30000 11.67%,#c00 13.89%,#c60000 15%,#b90000 16.11%,#d50000 17.22%,#c50000 18.33%,#c90000 19.44%,#b90000 20.56%,#c80000 21.67%,#d00 22.78%,#c10000 23.89%,#760000 25%,#ff4800 26.11%,#ff5100 27.22%,#ff1000 28.33%,#ff0a00 29.44%,#f70000 30.56%,#ff0700 31.67%,#f90000 32.78%,#ff0b00 33.89%,#f00000 35%,#ff0c00 36.11%,#fd0000 37.22%,#ea0000 39.44%,#ff1c00 40.56%,#ff1300 41.67%,#ff2700 42.78%,#ff2b00 45%,#ff2e00 46.11%,#ff3c00 47.22%,#ef0000 48.33%,#ff1400 49.44%,#ff0700 50.56%,#ff2c00 51.67%,#ff4300 52.78%,#e20000 53.89%,#e70000 55%,#ff0a00 56.11%,#ff0900 57.22%,#ff0200 58.33%,#ff0500 59.44%,#ff1500 60.56%,#ff0500 61.67%,#f00 62.78%,#ff1000 65%,#ff0100 66.11%,#ff0600 67.22%,#e60000 68.33%,#d80000 69.44%,#e70000 70.56%,#fb0000 71.67%,#e60000 72.78%,#e80000 73.89%,#900000 75%,#de0000 76.11%,#d50000 77.22%,#e60000 78.33%,#c20000 80.56%,#be0000 81.67%,#bf0000 82.78%,#c90000 83.89%,#b80000 85%,#ce0000 86.11%,#d20000 87.22%,#c40000 88.33%,#de0000 89.44%,#d60000 90.56%,#a20000 91.67%,#890000 92.78%,#9c0000 93.89%,#930000 95%,#410000 96.11%,#430000 97.22%,#1c0000 98.33%,#1a0000 99.44%)"></i>
<i style="left:427.065px;background:linear-gradient(#1a0000 0.5556%,#230000 1.667%,#bd0000 2.778%,#d40000 3.889%,#d50000 5%,#c10000 6.111%,#cf0000 7.222%,#d20000 8.333%,#c30000 9.444%,#dc0000 10.56%,#d90000 11.67%,#d00000 12.78%,#d50000 13.89%,#d30000 15%,#c50000 16.11%,#db0000 17.22%,#e20000 18.33%,#e00000 19.44%,#c30000 20.56%,#ce0000 21.67%,#ff5800 22.78%,#ec0000 23.89%,#900000 25%,#ffb000 26.11%,#ffdc00 27.22%,#ff6c00 28.33%,#ff3b00 29.44%,#ff5700 30.56%,#ff4b00 31.67%,#ff6200 32.78%,#ff7300 33.89%,#ff5d00 35%,#ff8900 36.11%,#ff7b00 37.22%,#ff6500 38.33%,#ff7100 39.44%,#ff1600 40.56%,#ff3c00 42.78%,#ff4900 43.89%,#ff1f00 45%,#ff2900 46.11%,#ff4700 47.22%,#ff5200 48.33%,#f50 49.44%,#ffa700 50.56%,#ff9400 51.67%,#ff6e00 52.78%,#ff2900 53.89%,#ff1800 55%,#ff4d00 56.11%,#ff4600 57.22%,#ff5200 58.33%,#ff4900 59.44%,#ff5a00 60.56%,#ff5600 61.67%,#ff4600 62.78%,#ff5200 63.89%,#ff4c00 65%,#ff3700 66.11%,#ff4900 67.22%,#c60000 68.33%,#be0000 69.44%,#c00 70.56%,#be0000 72.78%,#c10000 73.89%,#760000 75%,#b10000 76.11%,#a70000 77.22%,#ae0000 78.33%,#be0000 79.44%,#a00000 80.56%,#a20000 81.67%,#a00 82.78%,#a10000 83.89%,#ae0000 85%,#a00000 86.11%,#ac0000 87.22%,#920000 89.44%,#890000 90.56%,#3a0000 91.67%,#350000 92.78%,#390000 93.89%,#340000 95%,#350000 97.22%,#1b0000 98.33%,#1a0000 99.44%)"></i>
<i style="left:451.125px;background:linear-gradient(#1a0000 0.5556%,#1f0000 1.667%,#690000 2.778%,#7b0000 3.889%,#b50000 5%,#9d0000 6.111%,#9e0000 7.222%,#a00 9.444%,#a00 10.56%,#b00000 11.67%,#a40000 12.78%,#a30000 13.89%,#b40000 15%,#ad0000 16.11%,#ae0000 17.22%,#b00 18.33%,#ae0000 19.44%,#9d0000 20.56%,#ac0000 21.67%,#f50000 22.78%,#c30000 23.89%,#760000 25%,#ff0f00 26.11%,#ff1700 27.22%,#f60000 28.33%,#d70000 29.44%,#e30000 30.56%,#db0000 31.67%,#f10000 32.78%,#da0000 33.89%,#e00000 35%,#e10000 36.11%,#cd0000 37.22%,#ca0000 38.33%,#c30000 39.44%,#cf0000 40.56%,#760000 41.67%,#720000 42.78%,#750000 43.89%,#700000 45%,#750000 47.22%,#7e0000 48.33%,#ec0000 49.44%,#ec0000 50.56%,#d90000 51.67%,#d00000 53.89%,#da0000 55%,#f60000 56.11%,#f30000 57.22%,#dc0000 58.33%,#fc0000 60.56%,#fb0000 61.67%,#f00 62.78%,#f60000 63.89%,#f10000 65%,#ff0900 66.11%,#f50000 67.22%,#ff6300 68.33%,#ff6200 69.44%,#ff7900 70.56%,#ff8a00 71.67%,#fff900 72.78%,#ff7500 73.89%,#e10000 75%,#ff9600 76.11%,#ff7f00 77.22%,#ff8600 78.33%,#ff9400 79.44%,#ff7200 80.56%,#ff6f00 82.78%,#ff5800 83.89%,#ff5700 85%,#ff6100 86.11%,#ff9500 87.22%,#ff4800 88.33%,#ff2800 89.44%,#f20 90.56%,#d20000 91.67%,#c00000 92.78%,#c30000 93.89%,#810000 95%,#6f0000 96.11%,#780000 97.22%,#270000 98.33%,#270000 99.44%)"></i>
<i style="left:475.185px;background:linear-gradient(#1a0000 0.5556%,#200 1.667%,#8d0000 2.778%,#9a0000 3.889%,#970000 5%,#b30000 6.111%,#be0000 7.222%,#b90000 8.333%,#d30000 10.56%,#be0000 11.67%,#b00 13.89%,#d30000 15%,#c00000 16.11%,#d40000 17.22%,#ca0000 18.33%,#d20000 19.44%,#c40000 20.56%,#ce0000 21.67%,#ff0d00 22.78%,#c30000 23.89%,#900000 25%,#ff4800 26.11%,#ff5400 27.22%,#f70000 28.33%,#f90000 29.44%,#e70000 30.56%,#e90000 31.67%,#f60000 32.78%,#b50000 33.89%,#a90000 35%,#b10000 36.11%,#a40000 37.22%,#b10000 38.33%,#a20000 39.44%,#a10000 41.67%,#ae0000 42.78%,#a50000 43.89%,#b50000 45%,#d50000 46.11%,#d90000 47.22%,#d00000 48.33%,#e20000 49.44%,#cf0000 50.56%,#d60000 51.67%,#d00000 52.78%,#a60000 53.89%,#ac0000 55%,#d40000 56.11%,#cf0000 59.44%,#c40000 61.67%,#c30000 62.78%,#c80000 63.89%,#c50000 65%,#c90000 66.11%,#c20000 67.22%,#b60000 68.33%,#cd0000 69.44%,#d50000 70.56%,#bc0000 73.89%,#760000 75%,#c60000 76.11%,#c50000 77.22%,#c00000 78.33%,#900 79.44%,#870000 80.56%,#8b0000 82.78%,#920000 83.89%,#8a0000 86.11%,#910000 87.22%,#8c0000 88.33%,#4a0000 89.44%,#4a0000 91.67%,#460000 92.78%,#4d0000 93.89%,#480000 95%,#1c0000 96.11%,#1a0000 99.44%)"></i>
<i style="left:499.245px;background:linear-gradient(#1b0000 0.5556%,#1e0000 1.667%,#630000 2.778%,#740000 3.889%,#730000 5%,#6a0000 6.111%,#6d0000 7.222%,#640000 8.333%,#700000 10.56%,#6a0000 12.78%,#6e0000 15%,#680000 16.11%,#6c0000 18.33%,#600 20.56%,#700000 21.67%,#af0000 22.78%,#9c0000 23.89%,#5b0000 25%,#d00000 26.11%,#dc0000 28.33%,#df0000 31.67%,#e70000 32.78%,#e00000 33.89%,#e80000 35%,#df0000 37.22%,#d30000 38.33%,#e20000 39.44%,#d40000 40.56%,#d00 41.67%,#d10000 42.78%,#e20000 43.89%,#e30000 45%,#d40000 46.11%,#ea0000 49.44%,#d70000 50.56%,#e40000 51.67%,#e00000 52.78%,#cf0000 53.89%,#e70000 55%,#f60000 56.11%,#df0000 57.22%,#d80000 58.33%,#d60000 59.44%,#f00000 60.56%,#e00000 61.67%,#c00 62.78%,#da0000 65%,#da0000 66.11%,#e60000 67.22%,#e00000 68.33%,#e10000 69.44%,#fc0000 70.56%,#f20000 71.67%,#d80000 72.78%,#df0000 73.89%,#ab0000 75%,#a30000 76.11%,#8d0000 77.22%,#a70000 79.44%,#910000 80.56%,#9b0000 81.67%,#950000 83.89%,#960000 85%,#a10000 86.11%,#a00000 87.22%,#8d0000 88.33%,#410000 89.44%,#3d0000 92.78%,#450000 93.89%,#410000 95%,#1d0000 96.11%,#190000 98.33%,#1b0000 99.44%)"></i>
<i style="left:523.305px;background:linear-gradient(#1a0000 0.5556%,#200000 1.667%,#800000 2.778%,#a00000 3.889%,#ed0000 5%,#da0000 6.111%,#ff8d00 7.222%,#ff6b00 10.56%,#ff6800 11.67%,#ff7f00 12.78%,#ff7300 13.89%,#ff9100 15%,#ff7900 16.11%,#ff7300 17.22%,#ff8500 18.33%,#ff7900 19.44%,#ff4900 20.56%,#ff5c00 21.67%,#ffb900 22.78%,#ff2b00 23.89%,#c60000 25%,#ffb700 26.11%,#ffa500 27.22%,#ffad00 28.33%,#ff6800 29.44%,#ff7200 31.67%,#ff8600 32.78%,#ff2f00 33.89%,#ff1b00 35%,#ff3600 36.11%,#ff2400 38.33%,#d90000 39.44%,#e00000 41.67%,#dc0000 42.78%,#e40000 45%,#db0000 46.11%,#e60000 47.22%,#e10000 48.33%,#e00 49.44%,#e50000 50.56%,#e90000 51.67%,#dc0000 53.89%,#d00 55%,#fd0000 56.11%,#fb0000 57.22%,#e30000 58.33%,#f20000 59.44%,#ff1400 60.56%,#ff0200 61.67%,#e50000 62.78%,#fb0000 63.89%,#dc0000 65%,#d70000 66.11%,#e50000 67.22%,#bd0000 68.33%,#c00 69.44%,#d10000 70.56%,#b60000 72.78%,#b60000 73.89%,#5b0000 75%,#780000 76.11%,#6b0000 77.22%,#790000 78.33%,#790000 79.44%,#6b0000 80.56%,#700 81.67%,#710000 82.78%,#700000 83.89%,#790000 85%,#700 87.22%,#710000 88.33%,#400000 89.44%,#400000 91.67%,#400000 95%,#1c0000 96.11%,#190000 98.33%,#1b0000 99.44%)"></i>
<i style="left:547.365px;background:linear-gradient(#1b0000 0.5556%,#200000 1.667%,#6a0000 2.778%,#760000 3.889%,#790000 5%,#740000 6.111%,#700 7.222%,#6e0000 8.333%,#7c0000 10.56%,#750000 11.67%,#700 13.89%,#7e0000 15%,#710000 16.11%,#790000 18.33%,#780000 19.44%,#6b0000 20.56%,#780000 21.67%,#8e0000 22.78%,#940000 23.89%,#5b0000 25%,#a00 26.11%,#a40000 29.44%,#af0000 30.56%,#ad0000 31.67%,#b10000 32.78%,#810000 33.89%,#750000 35%,#730000 36.11%,#780000 37.22%,#740000 39.44%,#7a0000 41.67%,#900 42.78%,#ab0000 45%,#ab0000 48.33%,#ba0000 49.44%,#e00000 50.56%,#d20000 51.67%,#d00 52.78%,#d80000 53.89%,#e10000 55%,#e00 56.11%,#f20000 57.22%,#da0000 58.33%,#df0000 59.44%,#f50000 60.56%,#e20000 61.67%,#d90000 62.78%,#d60000 63.89%,#dc0000 65%,#e80000 66.11%,#db0000 67.22%,#e80000 68.33%,#e10000 69.44%,#ff0300 70.56%,#e70000 71.67%,#eb0000 72.78%,#e70000 73.89%,#900000 75%,#d50000 76.11%,#df0000 77.22%,#df0000 78.33%,#d40000 79.44%,#bf0000 80.56%,#c60000 81.67%,#b40000 82.78%,#cf0000 83.89%,#bc0000 86.11%,#dc0000 87.22%,#a90000 89.44%,#b00000 91.67%,#a80000 92.78%,#a90000 93.89%,#620000 95%,#5a0000 96.11%,#590000 97.22%,#1d0000 98.33%,#1b0000 99.44%)"></i>
<i style="left:571.425px;background:linear-gradient(#1a0000 0.5556%,#200000 1.667%,#800000 2.778%,#a20000 3.889%,#bd0000 5%,#c70000 6.111%,#ca0000 9.444%,#ec0000 10.56%,#e40000 11.67%,#d70000 12.78%,#e10000 15%,#d60000 16.11%,#ff4900 17.22%,#ff5600 18.33%,#ff5300 19.44%,#ff3900 20.56%,#ff5600 21.67%,#ff9700 22.78%,#ff3f00 23.89%,#e10000 25%,#fe0 26.11%,#fff400 27.22%,#fff500 28.33%,#ffb400 29.44%,#ffb300 30.56%,#ffca00 31.67%,#ffcb00 32.78%,#ff9000 33.89%,#ff6e00 35%,#ff8d00 36.11%,#ff6a00 38.33%,#ff7500 39.44%,#ff5700 40.56%,#ff6a00 41.67%,#ff2300 42.78%,#ff0600 43.89%,#e80000 45%,#e90000 46.11%,#d50000 47.22%,#dc0000 48.33%,#7f0000 49.44%,#720000 50.56%,#760000 51.67%,#700000 53.89%,#700 55%,#730000 61.67%,#700 63.89%,#700000 66.11%,#7b0000 67.22%,#a00000 68.33%,#ba0000 70.56%,#a50000 71.67%,#a50000 72.78%,#ae0000 73.89%,#5b0000 75%,#910000 76.11%,#8c0000 77.22%,#900000 78.33%,#9d0000 79.44%,#910000 80.56%,#8e0000 82.78%,#800 83.89%,#8a0000 85%,#930000 86.11%,#900000 87.22%,#800000 88.33%,#450000 89.44%,#3f0000 91.67%,#400000 92.78%,#450000 93.89%,#3c0000 95%,#1b0000 96.11%,#1b0000 99.44%)"></i>
</div><div class="lb">
<i style="left:0.000px;background:linear-gradient(#1b0000 0.5556%,#1d0000 1.667%,#470000 2.778%,#4b0000 3.889%,#490000 7.222%,#5c0000 8.333%,#570000 9.444%,#600 10.56%,#8d0000 11.67%,#870000 12.78%,#740000 13.89%,#ab0000 15%,#9d0000 16.11%,#a30000 18.33%,#9c0000 20.56%,#c10000 21.67%,#c00 22.78%,#a90000 23.89%,#400000 25%,#b10000 26.11%,#d60000 28.33%,#c90000 30.56%,#c00 31.67%,#c60000 32.78%,#940000 33.89%,#930000 35%,#c10000 36.11%,#b10000 37.22%,#be0000 38.33%,#b00 39.44%,#bf0000 40.56%,#b00000 41.67%,#b60000 43.89%,#bd0000 45%,#bd0000 46.11%,#cd0000 47.22%,#c90000 48.33%,#ff0100 49.44%,#ed0000 51.67%,#ff0b00 52.78%,#ff1500 53.89%,#ffad00 55%,#ffe200 56.11%,#ffb200 57.22%,#f80 58.33%,#ffa500 59.44%,#ff9200 60.56%,#ffb000 61.67%,#ffa600 62.78%,#ffb400 63.89%,#ffba00 65%,#ffae00 66.11%,#ffad00 67.22%,#ff5900 68.33%,#ff6f00 69.44%,#ffff52 70.56%,#fff200 71.67%,#ffff05 72.78%,#ff7500 73.89%,#ab0000 75%,#ffe900 76.11%,#fe0 77.22%,#ff6f00 78.33%,#ffd100 79.44%,#ffb600 80.56%,#ffa200 81.67%,#ff2f00 82.78%,#ffac00 83.89%,#ffbd00 85%,#ffb400 86.11%,#ffbd00 87.22%,#ffa000 88.33%,#f40 89.44%,#ff4700 90.56%,#ff6c00 91.67%,#ff7000 92.78%,#ff8a00 93.89%,#d80000 95%,#b60000 96.11%,#c10000 97.22%,#560000 98.33%,#1b0000 99.44%)"></i>
<i style="left:24.060px;background:linear-gradient(#1a0000 0.5556%,#1e0000 1.667%,#500000 2.778%,#5a0000 3.889%,#5c0000 6.111%,#b40000 7.222%,#ff2d00 8.333%,#ff3b00 9.444%,#ffca00 10.56%,#ffc100 11.67%,#ff3a00 12.78%,#ff6800 13.89%,#ff8200 16.11%,#ffc900 17.22%,#fc0 18.33%,#ff4700 20.56%,#ff3100 21.67%,#ffc200 22.78%,#ff4600 23.89%,#c60000 25%,#ffe800 26.11%,#fffc00 27.22%,#ff7200 28.33%,#ff6f00 29.44%,#ff7900 31.67%,#ff7400 32.78%,#ff2500 33.89%,#ff3000 35%,#ff8d00 36.11%,#ff9000 37.22%,#ffa200 38.33%,#ff8500 39.44%,#ff3d00 40.56%,#ff2d00 42.78%,#ff4300 43.89%,#f50 45%,#ff4500 46.11%,#ff8a00 47.22%,#ffa900 48.33%,#ff9100 49.44%,#ff2500 50.56%,#ff1d00 51.67%,#fe0000 53.89%,#ff0800 55%,#f00 56.11%,#ff0200 57.22%,#f00000 58.33%,#fe0000 59.44%,#ff0f00 60.56%,#fb0000 61.67%,#e50000 62.78%,#eb0000 63.89%,#ff0c00 65%,#ff0900 66.11%,#f00 67.22%,#970000 68.33%,#940000 70.56%,#890000 71.67%,#8e0000 72.78%,#8d0000 73.89%,#400000 75%,#5c0000 76.11%,#5a0000 78.33%,#5e0000 79.44%,#5a0000 81.67%,#470000 85%,#4c0000 87.22%,#480000 88.33%,#4d0000 89.44%,#4a0000 91.67%,#260000 92.78%,#260000 97.22%,#160000 98.33%,#150000 99.44%)"></i>
<i style="left:48.120px;background:linear-gradient(#150000 0.5556%,#170000 1.667%,#320000 2.778%,#3a0000 3.889%,#320000 7.222%,#350000 8.333%,#540000 9.444%,#600000 11.67%,#5b0000 16.11%,#610000 18.33%,#570000 20.56%,#710000 21.67%,#790000 22.78%,#6c0000 23.89%,#400000 25%,#900 26.11%,#b70000 27.22%,#b20000 28.33%,#ca0000 29.44%,#bc0000 30.56%,#c80000 31.67%,#c40000 32.78%,#f40000 33.89%,#f70000 35%,#ff0800 36.11%,#f40000 37.22%,#eb0000 38.33%,#f90000 39.44%,#f00 41.67%,#ff2300 43.89%,#ff2800 45%,#ff0e00 46.11%,#ff2700 47.22%,#ff8a00 48.33%,#ff9500 49.44%,#ffad00 50.56%,#ff9200 51.67%,#ff0f00 52.78%,#f20 53.89%,#ff7800 55%,#ff9200 56.11%,#ff9000 57.22%,#ff9300 58.33%,#ffa800 59.44%,#ffae00 60.56%,#ff1d00 61.67%,#ff2700 62.78%,#ffad00 63.89%,#ffd100 65%,#ffa700 66.11%,#ffb900 67.22%,#ff8a00 68.33%,#ffa200 69.44%,#f90 70.56%,#ffff17 71.67%,#ffff38 72.78%,#ff6e00 73.89%,#e10000 75%,#ff8400 76.11%,#ff9400 77.22%,#ff8000 78.33%,#fff300 79.44%,#ffb600 80.56%,#ffce00 81.67%,#ff4800 82.78%,#ff5400 83.89%,#ff5a00 85%,#ff6f00 86.11%,#ff7300 87.22%,#ff6500 88.33%,#ff6300 89.44%,#ff0a00 90.56%,#ff0500 91.67%,#c50000 92.78%,#c80000 93.89%,#a80000 95%,#9e0000 96.11%,#a00 97.22%,#2c0000 98.33%,#260000 99.44%)"></i>
<i style="left:72.180px;background:linear-gradient(#190000 0.5556%,#1c0000 1.667%,#3f0000 2.778%,#4a0000 3.889%,#8e0000 5%,#8f0000 6.111%,#bd0000 7.222%,#c20000 8.333%,#ff4b00 9.444%,#ff5100 10.56%,#ff3400 11.67%,#f70000 12.78%,#f50000 13.89%,#ff0b00 15%,#ec0000 16.11%,#ff1200 17.22%,#f00 18.33%,#fb0000 19.44%,#e20000 20.56%,#e90000 21.67%,#ff5a00 22.78%,#ff0600 23.89%,#ab0000 25%,#ffe400 26.11%,#ffe000 27.22%,#fff500 28.33%,#ff7f00 29.44%,#ff6700 30.56%,#ff6000 31.67%,#ff4e00 32.78%,#ff6b00 33.89%,#ff6800 35%,#ff7c00 36.11%,#ff6800 37.22%,#ff7600 38.33%,#ff7200 39.44%,#ff3b00 40.56%,#ff4b00 42.78%,#ff2b00 43.89%,#ff5b00 45%,#f70 46.11%,#ff6500 47.22%,#ff7e00 48.33%,#ff2900 49.44%,#ff1c00 52.78%,#ff1e00 53.89%,#ff3000 55%,#ff2300 56.11%,#ff3500 57.22%,#ff1b00 59.44%,#f30 60.56%,#f30 61.67%,#ff0a00 62.78%,#ff2a00 63.89%,#ff3100 65%,#ff3000 66.11%,#ff1d00 67.22%,#f30000 68.33%,#f10000 69.44%,#ff0100 70.56%,#fc0000 71.67%,#f00 72.78%,#ea0000 73.89%,#760000 75%,#e90000 76.11%,#d60000 77.22%,#d00 78.33%,#a20000 79.44%,#ce0000 80.56%,#d50000 81.67%,#d20000 82.78%,#da0000 83.89%,#dc0000 85%,#e30000 86.11%,#f80000 87.22%,#e10000 88.33%,#d80000 89.44%,#930000 90.56%,#9b0000 91.67%,#810000 92.78%,#3c0000 93.89%,#360000 95%,#360000 97.22%,#320000 98.33%,#300 99.44%)"></i>
<i style="left:96.240px;background:linear-gradient(#1a0000 0.5556%,#1c0000 1.667%,#3c0000 2.778%,#470000 5%,#720000 6.111%,#6e0000 7.222%,#740000 8.333%,#b70000 9.444%,#d50000 10.56%,#c00 11.67%,#a50000 12.78%,#a80000 15%,#a00000 16.11%,#930000 17.22%,#900 18.33%,#970000 19.44%,#8b0000 20.56%,#a10000 21.67%,#a90000 22.78%,#930000 23.89%,#250000 25%,#be0000 26.11%,#d40000 27.22%,#cf0000 28.33%,#c20000 29.44%,#cd0000 30.56%,#c90000 32.78%,#e60000 33.89%,#e60000 36.11%,#d40000 37.22%,#e30000 38.33%,#e00000 39.44%,#d10000 40.56%,#d70000 41.67%,#c00 42.78%,#d80000 43.89%,#de0000 45%,#e90000 46.11%,#ea0000 48.33%,#f00 49.44%,#ec0000 50.56%,#e10000 51.67%,#e90000 52.78%,#bc0000 53.89%,#bd0000 55%,#f00 56.11%,#e90000 57.22%,#e90000 59.44%,#ef0000 60.56%,#e70000 61.67%,#d80000 62.78%,#e80000 63.89%,#e50000 66.11%,#f60000 67.22%,#fa0000 69.44%,#ff0600 70.56%,#ff4300 71.67%,#ff4e00 72.78%,#ff4f00 73.89%,#900000 75%,#e10000 76.11%,#de0000 77.22%,#e10000 78.33%,#fa0000 79.44%,#e30000 80.56%,#e60000 81.67%,#d10000 82.78%,#d30000 83.89%,#e80000 85%,#d30000 86.11%,#df0000 87.22%,#da0000 89.44%,#df0000 90.56%,#9d0000 91.67%,#890000 92.78%,#400 93.89%,#430000 95%,#3d0000 96.11%,#400000 97.22%,#3e0000 98.33%,#420000 99.44%)"></i>
<i style="left:120.300px;background:linear-gradient(#1a0000 0.5556%,#1c0000 1.667%,#3d0000 2.778%,#450000 3.889%,#3f0000 5%,#3e0000 6.111%,#430000 7.222%,#6e0000 8.333%,#710000 9.444%,#7f0000 10.56%,#a70000 11.67%,#b30000 12.78%,#a00000 13.89%,#b20000 15%,#a10000 16.11%,#b40000 17.22%,#b80000 18.33%,#9b0000 20.56%,#ad0000 21.67%,#b50000 22.78%,#ab0000 23.89%,#900000 25%,#ab0000 26.11%,#b20000 27.22%,#c50000 28.33%,#bd0000 29.44%,#bc0000 30.56%,#ff2700 31.67%,#ff2a00 32.78%,#ff3900 33.89%,#ff1400 35%,#ff3d00 36.11%,#ff1e00 37.22%,#ff5a00 38.33%,#ff5700 40.56%,#ff6500 41.67%,#ff5d00 42.78%,#ff1400 43.89%,#f20 45%,#ff8000 46.11%,#ff8500 47.22%,#ff1c00 48.33%,#ff3a00 49.44%,#ff2000 50.56%,#f10 51.67%,#ff4200 52.78%,#ff3a00 53.89%,#ff4300 55%,#f40 56.11%,#ff5200 57.22%,#ff4900 58.33%,#ff5200 59.44%,#f60 60.56%,#ff3f00 61.67%,#ff2d00 62.78%,#ff4b00 63.89%,#ff6200 65%,#ff4100 66.11%,#ff4700 67.22%,#ff1c00 68.33%,#ff2500 69.44%,#ff4600 70.56%,#ffb300 71.67%,#ff9c00 72.78%,#ffb900 73.89%,#c60000 75%,#ff5100 76.11%,#ff3500 77.22%,#ff3500 78.33%,#ff6900 79.44%,#ff3100 80.56%,#ff4700 81.67%,#ff4000 82.78%,#ff1600 83.89%,#ff1e00 85%,#f10 86.11%,#ff3500 87.22%,#ff2100 88.33%,#ff2300 89.44%,#ff1700 90.56%,#cb0000 91.67%,#be0000 92.78%,#930000 93.89%,#8c0000 95%,#8a0000 97.22%,#290000 98.33%,#250000 99.44%)"></i>
<i style="left:144.360px;background:linear-gradient(#1a0000 0.5556%,#1d0000 1.667%,#490000 2.778%,#500 5%,#840000 6.111%,#8d0000 7.222%,#8e0000 8.333%,#b30000 9.444%,#d20000 10.56%,#c00000 11.67%,#cb0000 12.78%,#cd0000 13.89%,#c60000 15%,#b80000 16.11%,#d20000 17.22%,#d30000 18.33%,#c80000 19.44%,#c50000 20.56%,#ea0000 21.67%,#f80000 22.78%,#ce0000 23.89%,#900000 25%,#ff9000 26.11%,#ffa000 27.22%,#ff6b00 28.33%,#ff5300 29.44%,#f40 30.56%,#ff5f00 31.67%,#f50 32.78%,#ff1400 33.89%,#ff0800 35%,#fb0000 37.22%,#fc0000 38.33%,#e90000 39.44%,#ea0000 40.56%,#ff0700 41.67%,#ec0000 42.78%,#f50000 45%,#f20000 46.11%,#ff0500 47.22%,#ff0500 48.33%,#c60000 49.44%,#b90000 50.56%,#7c0000 51.67%,#700000 52.78%,#6e0000 53.89%,#7b0000 56.11%,#c70000 57.22%,#ca0000 58.33%,#bd0000 59.44%,#d20000 60.56%,#c00 61.67%,#bc0000 62.78%,#bc0000 66.11%,#c20000 67.22%,#df0000 68.33%,#e90000 69.44%,#eb0000 70.56%,#d80000 71.67%,#df0000 72.78%,#dc0000 73.89%,#900000 75%,#e60000 76.11%,#d80000 77.22%,#d10000 78.33%,#e00 79.44%,#d80000 81.67%,#e30000 83.89%,#d40000 85%,#db0000 86.11%,#ed0000 87.22%,#ca0000 88.33%,#ba0000 89.44%,#c60000 90.56%,#cb0000 91.67%,#c00000 92.78%,#910000 93.89%,#970000 95%,#8c0000 96.11%,#940000 97.22%,#2b0000 98.33%,#250000 99.44%)"></i>
<i style="left:168.420px;background:linear-gradient(#1b0000 0.5556%,#1e0000 1.667%,#490000 2.778%,#4c0000 3.889%,#490000 7.222%,#850000 8.333%,#8d0000 9.444%,#8f0000 10.56%,#a40000 11.67%,#b20000 12.78%,#a80000 13.89%,#a70000 15%,#af0000 16.11%,#ad0000 17.22%,#ba0000 18.33%,#a00 19.44%,#a10000 20.56%,#e60000 21.67%,#f60000 22.78%,#d90000 23.89%,#900000 25%,#cb0000 26.11%,#de0000 27.22%,#d20000 28.33%,#da0000 30.56%,#cd0000 31.67%,#e80000 32.78%,#e90000 33.89%,#d50000 35%,#df0000 36.11%,#ce0000 39.44%,#ce0000 40.56%,#d30000 41.67%,#e10000 42.78%,#da0000 43.89%,#ec0000 45%,#d50000 46.11%,#de0000 47.22%,#df0000 48.33%,#e60000 49.44%,#d00 50.56%,#df0000 51.67%,#d40000 52.78%,#d10000 53.89%,#e90000 55%,#dc0000 56.11%,#eb0000 57.22%,#e40000 58.33%,#e30000 59.44%,#f10000 60.56%,#e00000 61.67%,#d00000 63.89%,#f10000 65%,#de0000 66.11%,#e10000 67.22%,#ff4000 68.33%,#ff5000 69.44%,#ff4e00 70.56%,#ffb600 71.67%,#ffda00 72.78%,#ffaf00 73.89%,#c60000 75%,#f50 76.11%,#ff2e00 77.22%,#ff3800 78.33%,#ff6300 79.44%,#ff1400 80.56%,#ff2300 81.67%,#ff1d00 82.78%,#ff2000 85%,#ff2600 86.11%,#ff3600 87.22%,#ff2100 88.33%,#ff1200 89.44%,#f40000 90.56%,#d90000 92.78%,#b00000 93.89%,#a60000 95%,#a90000 96.11%,#b10000 97.22%,#2c0000 98.33%,#260000 99.44%)"></i>
<i style="left:192.480px;background:linear-gradient(#1a0000 0.5556%,#1d0000 1.667%,#450000 2.778%,#520000 3.889%,#510000 5%,#4a0000 6.111%,#470000 9.444%,#520000 10.56%,#6f0000 11.67%,#780000 13.89%,#760000 16.11%,#7d0000 17.22%,#7c0000 18.33%,#750000 19.44%,#720000 21.67%,#7c0000 22.78%,#710000 23.89%,#250000 25%,#a40000 26.11%,#b30000 27.22%,#b70000 28.33%,#ad0000 29.44%,#af0000 30.56%,#a00 31.67%,#ab0000 32.78%,#e00 33.89%,#d40000 35%,#e20000 36.11%,#e80000 37.22%,#e30000 38.33%,#d20000 40.56%,#e70000 41.67%,#d00000 42.78%,#cf0000 43.89%,#e70000 46.11%,#da0000 47.22%,#e90000 48.33%,#e50000 49.44%,#c50000 50.56%,#cb0000 52.78%,#c90000 53.89%,#cd0000 55%,#f20000 56.11%,#df0000 57.22%,#ec0000 58.33%,#de0000 59.44%,#ea0000 60.56%,#e50000 61.67%,#cf0000 63.89%,#ef0000 65%,#d00 66.11%,#e00000 67.22%,#db0000 68.33%,#e10000 69.44%,#f40000 70.56%,#d80000 71.67%,#d90000 72.78%,#d30000 73.89%,#900000 75%,#de0000 76.11%,#d40000 77.22%,#db0000 78.33%,#c60000 79.44%,#a70000 80.56%,#bc0000 83.89%,#bc0000 85%,#c50000 86.11%,#ad0000 87.22%,#ab0000 88.33%,#a00000 89.44%,#c50000 90.56%,#bf0000 91.67%,#930000 92.78%,#970000 93.89%,#8d0000 95%,#8a0000 96.11%,#8e0000 97.22%,#2b0000 98.33%,#250000 99.44%)"></i>
<i style="left:216.540px;background:linear-gradient(#1b0000 0.5556%,#1d0000 1.667%,#3a0000 2.778%,#450000 3.889%,#3d0000 7.222%,#530000 8.333%,#540000 9.444%,#5e0000 10.56%,#5f0000 11.67%,#560000 12.78%,#570000 13.89%,#5f0000 15%,#5f0000 17.22%,#610000 18.33%,#5e0000 19.44%,#560000 20.56%,#590000 21.67%,#620000 22.78%,#5d0000 23.89%,#250000 25%,#be0000 26.11%,#c00 27.22%,#c20000 28.33%,#c00 30.56%,#c50000 31.67%,#d90000 32.78%,#fe0000 33.89%,#ff0900 35%,#f60000 36.11%,#f90000 37.22%,#f40000 38.33%,#d80000 39.44%,#e50000 40.56%,#e30000 41.67%,#db0000 42.78%,#df0000 45%,#d20000 46.11%,#e10000 47.22%,#e70000 48.33%,#e40000 49.44%,#da0000 50.56%,#db0000 51.67%,#d30000 52.78%,#d30000 53.89%,#e20000 55%,#e70000 56.11%,#f40000 57.22%,#e80000 58.33%,#e60000 61.67%,#d30000 62.78%,#d80000 63.89%,#eb0000 65%,#e60000 66.11%,#da0000 67.22%,#ef0000 68.33%,#fb0000 69.44%,#ff1a00 70.56%,#ff5700 71.67%,#ff6800 72.78%,#ff6700 73.89%,#ab0000 75%,#f80 76.11%,#ff8c00 77.22%,#f80000 78.33%,#ff0100 79.44%,#ff4200 80.56%,#ff4900 81.67%,#ff3800 82.78%,#ff4d00 83.89%,#ff4100 85%,#ff5400 86.11%,#ff6e00 87.22%,#ff5b00 88.33%,#ff5700 90.56%,#ff5c00 91.67%,#e80000 92.78%,#ae0000 93.89%,#a90000 95%,#ab0000 96.11%,#a50000 97.22%,#2b0000 98.33%,#250000 99.44%)"></i>
<i style="left:240.600px;background:linear-gradient(#1b0000 0.5556%,#1f0000 1.667%,#510000 2.778%,#620000 3.889%,#5a0000 5%,#580000 6.111%,#5d0000 7.222%,#730000 8.333%,#720000 9.444%,#be0000 10.56%,#ce0000 11.67%,#c30000 12.78%,#bf0000 13.89%,#a10000 16.11%,#ae0000 18.33%,#a90000 19.44%,#a00 20.56%,#9f0000 21.67%,#b30000 22.78%,#b50000 23.89%,#760000 25%,#ce0000 26.11%,#e20000 27.22%,#de0000 28.33%,#d00000 29.44%,#dc0000 31.67%,#d30000 32.78%,#d20000 33.89%,#e30000 36.11%,#c80000 37.22%,#d90000 38.33%,#d70000 39.44%,#de0000 41.67%,#c00 42.78%,#ad0000 43.89%,#a70000 45%,#a70000 46.11%,#a20000 47.22%,#b10000 48.33%,#b00 49.44%,#9f0000 51.67%,#ab0000 52.78%,#a10000 55%,#800000 56.11%,#750000 57.22%,#7a0000 58.33%,#7a0000 61.67%,#6e0000 62.78%,#6d0000 63.89%,#760000 66.11%,#710000 68.33%,#7c0000 69.44%,#700 70.56%,#7b0000 71.67%,#6d0000 72.78%,#720000 73.89%,#350000 75%,#570000 76.11%,#500 77.22%,#5c0000 79.44%,#5c0000 81.67%,#540000 82.78%,#5c0000 83.89%,#5e0000 87.22%,#580000 88.33%,#3e0000 89.44%,#400000 95%,#200 96.11%,#1e0000 98.33%,#210000 99.44%)"></i>
<i style="left:264.660px;background:linear-gradient(#150000 0.5556%,#180000 1.667%,#400 2.778%,#4e0000 3.889%,#510000 5%,#460000 7.222%,#490000 8.333%,#460000 9.444%,#4e0000 11.67%,#4b0000 12.78%,#4d0000 19.44%,#460000 21.67%,#4a0000 22.78%,#490000 23.89%,#1b0000 25%,#720000 26.11%,#7d0000 27.22%,#760000 28.33%,#730000 31.67%,#700 32.78%,#460000 33.89%,#430000 35%,#450000 36.11%,#3d0000 38.33%,#410000 41.67%,#3d0000 43.89%,#410000 45%,#3d0000 46.11%,#3d0000 48.33%,#460000 49.44%,#860000 50.56%,#800 52.78%,#d10000 53.89%,#d80000 55%,#ff4d00 56.11%,#ff4d00 57.22%,#ff5800 58.33%,#ff3600 59.44%,#ff5000 60.56%,#ff5000 61.67%,#ff3d00 63.89%,#ff3f00 65%,#ff5100 66.11%,#ff4b00 67.22%,#ff5700 68.33%,#ff7500 69.44%,#ffa800 70.56%,#ffa000 71.67%,#ffac00 72.78%,#ff4c00 73.89%,#c60000 75%,#ff9700 76.11%,#ff7300 77.22%,#ff2100 78.33%,#ff7200 80.56%,#ff8500 81.67%,#f10 82.78%,#ff4100 83.89%,#ff5600 85%,#ff3500 86.11%,#f60 87.22%,#ff3400 88.33%,#f40 89.44%,#f10000 90.56%,#de0000 91.67%,#d60000 92.78%,#ae0000 93.89%,#b10000 95%,#a50000 97.22%,#2a0000 98.33%,#250000 99.44%)"></i>
<i style="left:288.720px;background:linear-gradient(#240000 0.5556%,#290000 1.667%,#6c0000 2.778%,#700 3.889%,#930000 5%,#8f0000 6.111%,#b30000 7.222%,#bd0000 9.444%,#d90000 11.67%,#d30000 12.78%,#e60000 13.89%,#e00 15%,#e10000 16.11%,#f10 17.22%,#ff0a00 18.33%,#f70000 19.44%,#f60000 20.56%,#fe0000 21.67%,#ff0a00 22.78%,#ff0900 23.89%,#c60000 25%,#f10 26.11%,#f30 27.22%,#ff0400 28.33%,#ff0700 29.44%,#e00 30.56%,#ff0500 31.67%,#f40000 32.78%,#f70000 33.89%,#ef0000 35%,#f00 36.11%,#e30000 37.22%,#f10000 38.33%,#d80000 39.44%,#e30000 40.56%,#de0000 41.67%,#f00000 43.89%,#ff4800 45%,#ff5600 46.11%,#ff5400 47.22%,#ff4700 48.33%,#ff5e00 49.44%,#ffd000 50.56%,#fff200 51.67%,#ffc900 52.78%,#fff800 53.89%,#ffff02 55%,#ffff05 56.11%,#ffff0e 57.22%,#fe0 58.33%,#fd0 59.44%,#ffff38 60.56%,#ffff0e 61.67%,#ffd200 62.78%,#fffc00 63.89%,#ffff1e 65%,#ffff0e 66.11%,#ffff05 67.22%,#ffca00 68.33%,#ffff0f 69.44%,#ffff0d 70.56%,#ffff39 71.67%,#ffff18 72.78%,#ffc900 73.89%,#ff4a00 75%,#ffff02 76.11%,#ffff0b 77.22%,#ff6100 78.33%,#ff6c00 79.44%,#ffec00 80.56%,#ffff1c 81.67%,#ff9300 82.78%,#ffd600 83.89%,#ffd900 85%,#ffe800 86.11%,#fffd00 87.22%,#ff8000 88.33%,#ff9300 89.44%,#ff2800 90.56%,#ff2700 91.67%,#ff0f00 92.78%,#e00 93.89%,#e10000 95%,#cd0000 96.11%,#9b0000 97.22%,#830000 98.33%,#240000 99.44%)"></i>
<i style="left:312.780px;background:linear-gradient(#240000 0.5556%,#2a0000 1.667%,#7f0000 2.778%,#920000 3.889%,#7a0000 5%,#750000 7.222%,#d50000 8.333%,#e10000 9.444%,#ff2500 10.56%,#ff6c00 11.67%,#ff5e00 12.78%,#ff5600 13.89%,#ff6700 15%,#ff6200 16.11%,#ff7b00 17.22%,#fffa00 18.33%,#ffff0f 19.44%,#ff9200 20.56%,#ff8200 21.67%,#ffff61 22.78%,#ff5c00 23.89%,#fc0000 25%,#ffff1e 26.11%,#ffff4c 27.22%,#ffc000 28.33%,#ffa400 29.44%,#ffc000 30.56%,#ffba00 31.67%,#ffc700 32.78%,#ff9400 33.89%,#ff7900 35%,#ff6900 36.11%,#ff7f00 37.22%,#ff5800 39.44%,#f70 40.56%,#ff7900 41.67%,#ff7200 42.78%,#ff5b00 43.89%,#ff4d00 45%,#ff3700 46.11%,#ff3c00 47.22%,#ff3700 48.33%,#ff1800 49.44%,#ff0500 50.56%,#e40000 51.67%,#db0000 52.78%,#e60000 53.89%,#e00000 55%,#fe0000 56.11%,#f40000 57.22%,#f90000 58.33%,#ec0000 59.44%,#f10000 60.56%,#e90000 61.67%,#e00 62.78%,#d00 63.89%,#fa0000 65%,#e90000 66.11%,#eb0000 67.22%,#b80000 68.33%,#c20000 70.56%,#e40000 72.78%,#d80000 73.89%,#760000 75%,#cb0000 76.11%,#d00000 77.22%,#b40000 78.33%,#ab0000 79.44%,#a30000 81.67%,#9c0000 82.78%,#ae0000 85%,#a40000 86.11%,#7f0000 87.22%,#700000 88.33%,#740000 90.56%,#7f0000 91.67%,#750000 92.78%,#7a0000 93.89%,#2b0000 95%,#240000 96.11%,#240000 99.44%)"></i>
<i style="left:336.840px;background:linear-gradient(#150000 0.5556%,#160000 1.667%,#300000 2.778%,#390000 3.889%,#340000 7.222%,#360000 9.444%,#3c0000 10.56%,#540000 11.67%,#5f0000 15%,#560000 16.11%,#5e0000 17.22%,#5f0000 18.33%,#500 20.56%,#580000 21.67%,#630000 22.78%,#5b0000 23.89%,#250000 25%,#8e0000 26.11%,#920000 28.33%,#8e0000 29.44%,#960000 31.67%,#8e0000 32.78%,#9d0000 33.89%,#930000 35%,#8e0000 40.56%,#8f0000 41.67%,#f20000 42.78%,#f90000 43.89%,#fb0000 45%,#f30000 46.11%,#ff0700 47.22%,#fd0000 48.33%,#ff1500 49.44%,#fa0000 50.56%,#fd0000 51.67%,#f90000 52.78%,#ff0400 55%,#fb0000 56.11%,#fd0000 57.22%,#f00000 58.33%,#f00000 59.44%,#fe0000 60.56%,#eb0000 62.78%,#f20000 65%,#f90000 66.11%,#f90000 67.22%,#ff1300 68.33%,#ff1600 69.44%,#ff4200 70.56%,#ff9700 71.67%,#ff8d00 72.78%,#ff7c00 73.89%,#e10000 75%,#ffa400 76.11%,#ffba00 78.33%,#ff9600 79.44%,#ff7b00 80.56%,#ff8c00 81.67%,#fff800 83.89%,#ffce00 85%,#ff8100 86.11%,#ff9400 87.22%,#fd0 88.33%,#ffc100 89.44%,#ff3500 90.56%,#ff1800 91.67%,#be0000 92.78%,#c20000 93.89%,#7b0000 95%,#760000 96.11%,#7a0000 97.22%,#280000 98.33%,#250000 99.44%)"></i>
<i style="left:360.900px;background:linear-gradient(#250000 0.5556%,#2d0000 1.667%,#960000 2.778%,#b60000 3.889%,#d00 5%,#d30000 6.111%,#e20000 7.222%,#d00 8.333%,#e10000 9.444%,#ea0000 10.56%,#ff1e00 11.67%,#ff2900 12.78%,#ff2100 13.89%,#ff2400 15%,#fd0000 17.22%,#ff0f00 18.33%,#f60000 19.44%,#de0000 20.56%,#ea0000 21.67%,#ff0200 22.78%,#ff0c00 23.89%,#c60000 25%,#f10 26.11%,#ff1900 27.22%,#ff3600 28.33%,#ff1800 29.44%,#ff1e00 30.56%,#ff1b00 31.67%,#ff2c00 33.89%,#ff2300 36.11%,#ff1300 38.33%,#ff1d00 39.44%,#ff1500 40.56%,#ff2c00 41.67%,#ff2000 42.78%,#ff0b00 43.89%,#dc0000 45%,#e40000 46.11%,#ff0e00 47.22%,#ff1c00 48.33%,#ff3400 49.44%,#ff2800 51.67%,#ff1e00 52.78%,#f20 53.89%,#ff1500 55%,#ff2c00 56.11%,#ff1700 58.33%,#ff1f00 59.44%,#f20 60.56%,#ff3200 61.67%,#ff2500 62.78%,#ff0d00 63.89%,#d60000 65%,#c90000 66.11%,#ff0400 67.22%,#810000 68.33%,#700 69.44%,#800000 70.56%,#700000 72.78%,#760000 73.89%,#250000 75%,#780000 76.11%,#710000 77.22%,#4c0000 78.33%,#4c0000 81.67%,#490000 82.78%,#4c0000 83.89%,#480000 85%,#4e0000 87.22%,#470000 89.44%,#4e0000 90.56%,#4f0000 91.67%,#460000 92.78%,#4b0000 93.89%,#230000 95%,#1f0000 99.44%)"></i>
<i style="left:384.960px;background:linear-gradient(#1a0000 0.5556%,#1e0000 1.667%,#640000 2.778%,#760000 3.889%,#6b0000 5%,#6c0000 6.111%,#640000 7.222%,#6f0000 8.333%,#680000 9.444%,#7c0000 10.56%,#710000 11.67%,#720000 13.89%,#7f0000 15%,#790000 16.11%,#810000 18.33%,#7a0000 19.44%,#6c0000 20.56%,#7b0000 21.67%,#930000 22.78%,#9a0000 23.89%,#5b0000 25%,#db0000 26.11%,#ed0000 27.22%,#de0000 28.33%,#c10000 29.44%,#ce0000 31.67%,#c70000 32.78%,#a90000 33.89%,#b70000 36.11%,#a60000 37.22%,#ac0000 38.33%,#a40000 39.44%,#ac0000 42.78%,#a30000 43.89%,#a40000 45%,#af0000 46.11%,#a00 47.22%,#ac0000 49.44%,#da0000 50.56%,#d60000 51.67%,#de0000 52.78%,#de0000 53.89%,#e70000 55%,#e50000 56.11%,#ec0000 57.22%,#ea0000 58.33%,#dc0000 59.44%,#f40000 60.56%,#ed0000 61.67%,#cb0000 62.78%,#e10000 63.89%,#d80000 65%,#df0000 66.11%,#e00000 67.22%,#f60000 68.33%,#ff0600 69.44%,#f90000 70.56%,#f20000 71.67%,#ff0300 73.89%,#ab0000 75%,#f80000 76.11%,#fa0000 77.22%,#e00 78.33%,#ff0300 79.44%,#f30000 80.56%,#f60000 81.67%,#ec0000 82.78%,#ff0600 83.89%,#f40000 85%,#ed0000 86.11%,#ff1900 87.22%,#fb0000 88.33%,#cf0000 89.44%,#c20000 90.56%,#d50000 91.67%,#ba0000 92.78%,#c50000 93.89%,#5e0000 95%,#590000 96.11%,#5d0000 97.22%,#1d0000 98.33%,#1b0000 99.44%)"></i>
<i style="left:409.020px;background:linear-gradient(#1b0000 0.5556%,#200 1.667%,#820000 2.778%,#900 3.889%,#c30000 5%,#b70000 6.111%,#ca0000 8.333%,#d00000 10.56%,#c20000 11.67%,#c00000 12.78%,#ca0000 13.89%,#c20000 15%,#d30000 17.22%,#ca0000 19.44%,#bc0000 20.56%,#c00 21.67%,#ff0600 22.78%,#d00000 23.89%,#900000 25%,#ff1e00 26.11%,#ff3400 27.22%,#ff0600 29.44%,#fe0000 30.56%,#ff0200 31.67%,#ff0e00 32.78%,#e30000 33.89%,#ce0000 35%,#e70000 36.11%,#d50000 37.22%,#d40000 38.33%,#d80000 39.44%,#c70000 40.56%,#d20000 43.89%,#ac0000 45%,#b00000 46.11%,#d90000 47.22%,#d20000 48.33%,#e80000 49.44%,#d30000 50.56%,#d50000 51.67%,#c90000 52.78%,#ce0000 53.89%,#ce0000 55%,#c00000 56.11%,#cb0000 58.33%,#b40000 59.44%,#c70000 60.56%,#be0000 61.67%,#b70000 63.89%,#be0000 65%,#c00 66.11%,#bf0000 67.22%,#b90000 68.33%,#c10000 69.44%,#cf0000 70.56%,#c10000 71.67%,#bc0000 72.78%,#cd0000 73.89%,#900000 75%,#cb0000 76.11%,#b50000 77.22%,#c00000 78.33%,#a90000 80.56%,#a80000 81.67%,#9f0000 82.78%,#ae0000 83.89%,#b10000 87.22%,#a00000 88.33%,#b00000 90.56%,#400000 91.67%,#360000 92.78%,#370000 95%,#320000 96.11%,#380000 97.22%,#1c0000 98.33%,#1a0000 99.44%)"></i>
<i style="left:433.080px;background:linear-gradient(#150000 0.5556%,#180000 1.667%,#450000 2.778%,#4c0000 3.889%,#460000 7.222%,#4b0000 8.333%,#470000 11.67%,#4d0000 13.89%,#480000 16.11%,#510000 18.33%,#510000 19.44%,#400 20.56%,#500000 21.67%,#7a0000 22.78%,#400000 25%,#8f0000 26.11%,#900000 27.22%,#900 28.33%,#980000 29.44%,#8a0000 30.56%,#920000 31.67%,#8f0000 32.78%,#9b0000 33.89%,#8f0000 36.11%,#930000 37.22%,#870000 39.44%,#850000 40.56%,#950000 41.67%,#bc0000 42.78%,#c70000 43.89%,#e70000 45%,#fd0000 47.22%,#ea0000 48.33%,#ff0800 49.44%,#e90000 50.56%,#e70000 51.67%,#f30000 52.78%,#f20000 53.89%,#f90000 56.11%,#f90000 57.22%,#eb0000 58.33%,#ea0000 59.44%,#f50000 60.56%,#f70000 61.67%,#e30000 62.78%,#e20000 63.89%,#f40000 66.11%,#f10000 67.22%,#ffab00 68.33%,#ffcf00 69.44%,#ffff3b 70.56%,#ffff01 71.67%,#ffff76 72.78%,#ffc700 73.89%,#fc0000 75%,#fff700 76.11%,#fff000 77.22%,#ffd300 78.33%,#ff9c00 79.44%,#ffce00 80.56%,#ffef00 81.67%,#ff5c00 82.78%,#ff6700 83.89%,#ffe000 85%,#ffce00 86.11%,#ffe400 87.22%,#ffef00 88.33%,#ffff01 89.44%,#ff7300 90.56%,#ff5f00 91.67%,#e00 92.78%,#f60000 93.89%,#e00000 95%,#dc0000 96.11%,#af0000 97.22%,#9f0000 98.33%,#240000 99.44%)"></i>
<i style="left:457.140px;background:linear-gradient(#1a0000 0.5556%,#200 1.667%,#8b0000 2.778%,#980000 3.889%,#df0000 5%,#d20000 6.111%,#de0000 7.222%,#d00000 9.444%,#e30000 10.56%,#ea0000 11.67%,#d60000 12.78%,#d30000 13.89%,#e00000 15%,#e50000 17.22%,#de0000 18.33%,#e00000 19.44%,#da0000 20.56%,#f40000 21.67%,#ffb600 22.78%,#ff4000 23.89%,#e10000 25%,#fc0 26.11%,#ffe400 27.22%,#ffff0b 28.33%,#ff7900 29.44%,#ffd900 30.56%,#fff100 31.67%,#ffea00 32.78%,#ffff01 33.89%,#fff600 35%,#ff7900 37.22%,#ff7b00 39.44%,#ff8d00 40.56%,#ff7b00 41.67%,#ff5100 42.78%,#ff5100 43.89%,#ff9700 45%,#ff9e00 46.11%,#ff8e00 47.22%,#ff1700 48.33%,#ff2500 49.44%,#e50000 50.56%,#df0000 51.67%,#e30000 52.78%,#d40000 53.89%,#db0000 55%,#f40000 56.11%,#df0000 58.33%,#c50000 59.44%,#c40000 60.56%,#cb0000 61.67%,#b80000 62.78%,#b90000 63.89%,#d40000 65%,#c10000 66.11%,#c70000 67.22%,#8d0000 68.33%,#8b0000 69.44%,#930000 70.56%,#870000 72.78%,#8f0000 73.89%,#400000 75%,#700000 76.11%,#720000 77.22%,#6f0000 78.33%,#7e0000 79.44%,#710000 80.56%,#700 81.67%,#750000 82.78%,#790000 85%,#7a0000 86.11%,#810000 87.22%,#6a0000 88.33%,#410000 89.44%,#430000 90.56%,#400000 92.78%,#450000 93.89%,#3d0000 95%,#200000 96.11%,#1f0000 99.44%)"></i>
<i style="left:481.200px;background:linear-gradient(#1b0000 0.5556%,#1e0000 1.667%,#540000 2.778%,#630000 3.889%,#620000 5%,#8b0000 6.111%,#850000 7.222%,#800 8.333%,#930000 9.444%,#920000 10.56%,#980000 11.67%,#960000 12.78%,#8e0000 13.89%,#900 15%,#860000 16.11%,#8e0000 17.22%,#900000 19.44%,#820000 20.56%,#8d0000 21.67%,#e40000 22.78%,#cd0000 23.89%,#760000 25%,#da0000 26.11%,#d00 27.22%,#e70000 28.33%,#e80000 29.44%,#df0000 30.56%,#e60000 31.67%,#f30000 32.78%,#ff5900 33.89%,#ff5600 35%,#ff6700 36.11%,#ff4200 37.22%,#ff3f00 38.33%,#ff4b00 39.44%,#ff4d00 40.56%,#ff4900 41.67%,#f30 42.78%,#ff4a00 43.89%,#ff2900 45%,#ff3100 46.11%,#ff6500 47.22%,#ff9000 49.44%,#ff2d00 50.56%,#ff7b00 51.67%,#ff8b00 52.78%,#ff1700 53.89%,#ff1b00 55%,#ff3f00 56.11%,#ff3800 57.22%,#ff2800 58.33%,#f10 59.44%,#ff2800 60.56%,#ff1600 61.67%,#ff0a00 62.78%,#ff2600 63.89%,#ff3a00 65%,#ff6700 66.11%,#ff6c00 67.22%,#ff1d00 68.33%,#ff2a00 69.44%,#ff4d00 70.56%,#ff4300 71.67%,#ffa900 72.78%,#ff5600 73.89%,#e10000 75%,#ffa000 76.11%,#ff9300 77.22%,#f90 78.33%,#ff5200 79.44%,#ff8500 80.56%,#ff8c00 81.67%,#ff0e00 82.78%,#ff2b00 83.89%,#ff7600 85%,#ff9a00 86.11%,#ffa200 87.22%,#ff4f00 88.33%,#ff2d00 89.44%,#ff0200 90.56%,#fd0000 91.67%,#e60000 93.89%,#d40000 95%,#b90000 96.11%,#bf0000 97.22%,#2d0000 98.33%,#260000 99.44%)"></i>
<i style="left:505.260px;background:linear-gradient(#150000 0.5556%,#170000 1.667%,#300000 2.778%,#380000 3.889%,#350000 10.56%,#380000 11.67%,#340000 12.78%,#370000 13.89%,#340000 16.11%,#3a0000 18.33%,#390000 19.44%,#340000 20.56%,#390000 21.67%,#5a0000 22.78%,#580000 23.89%,#250000 25%,#8a0000 26.11%,#9d0000 28.33%,#8f0000 29.44%,#800 30.56%,#970000 31.67%,#9b0000 32.78%,#ae0000 33.89%,#ad0000 35%,#b00 36.11%,#b20000 37.22%,#e70000 38.33%,#eb0000 39.44%,#e20000 40.56%,#e20000 41.67%,#d80000 42.78%,#db0000 43.89%,#f00000 45%,#f20000 46.11%,#ec0000 47.22%,#e00 48.33%,#ff0300 49.44%,#e20000 51.67%,#e60000 52.78%,#de0000 53.89%,#e40000 55%,#ff2000 56.11%,#ff2f00 57.22%,#ff0600 58.33%,#ff1600 59.44%,#ff2000 60.56%,#ff0500 61.67%,#da0000 62.78%,#eb0000 63.89%,#ef0000 65%,#e30000 66.11%,#f60000 67.22%,#ff1e00 68.33%,#ff3a00 70.56%,#ff3200 71.67%,#ff1b00 72.78%,#ff1800 73.89%,#ec0000 75%,#ff1500 76.11%,#ff1a00 78.33%,#ff3700 79.44%,#fb0000 80.56%,#f40000 81.67%,#e40000 82.78%,#f50000 83.89%,#fb0000 85%,#fc0000 86.11%,#ff1200 87.22%,#f80000 88.33%,#ef0000 89.44%,#c00 90.56%,#c20000 91.67%,#c30000 93.89%,#a80000 95%,#9d0000 96.11%,#a40000 97.22%,#2c0000 98.33%,#270000 99.44%)"></i>
<i style="left:529.320px;background:linear-gradient(#1a0000 0.5556%,#200000 1.667%,#6b0000 2.778%,#850000 3.889%,#c70000 5%,#c40000 6.111%,#b70000 7.222%,#b00 8.333%,#b90000 9.444%,#c80000 10.56%,#c40000 11.67%,#cf0000 12.78%,#c60000 13.89%,#c80000 15%,#b00 16.11%,#c30000 17.22%,#d90000 18.33%,#d40000 19.44%,#c20000 20.56%,#c40000 21.67%,#ff1400 22.78%,#ed0000 23.89%,#900000 25%,#ff5c00 26.11%,#ff6d00 27.22%,#ff8c00 28.33%,#ff2d00 29.44%,#ff1500 30.56%,#ff1e00 31.67%,#ff1e00 32.78%,#f80000 33.89%,#e60000 35%,#e70000 36.11%,#dc0000 37.22%,#de0000 38.33%,#e90000 39.44%,#de0000 40.56%,#eb0000 41.67%,#e80000 43.89%,#ff2700 45%,#ff2300 46.11%,#ef0000 47.22%,#df0000 48.33%,#e70000 49.44%,#eb0000 50.56%,#d30000 51.67%,#cd0000 52.78%,#df0000 53.89%,#df0000 57.22%,#e50000 58.33%,#900000 59.44%,#930000 60.56%,#890000 63.89%,#920000 65%,#960000 66.11%,#8b0000 67.22%,#ca0000 68.33%,#d70000 69.44%,#de0000 70.56%,#ca0000 71.67%,#d00000 72.78%,#ce0000 73.89%,#760000 75%,#a70000 76.11%,#9d0000 77.22%,#ae0000 78.33%,#940000 79.44%,#900000 80.56%,#930000 81.67%,#890000 82.78%,#910000 83.89%,#8b0000 86.11%,#9a0000 87.22%,#8b0000 88.33%,#410000 89.44%,#3f0000 90.56%,#450000 91.67%,#3d0000 95%,#1c0000 96.11%,#190000 98.33%,#1b0000 99.44%)"></i>
<i style="left:553.380px;background:linear-gradient(#150000 0.5556%,#170000 1.667%,#3e0000 2.778%,#400 3.889%,#3c0000 6.111%,#3c0000 7.222%,#410000 8.333%,#3f0000 9.444%,#400 10.56%,#430000 11.67%,#3d0000 12.78%,#450000 18.33%,#400 19.44%,#3e0000 20.56%,#3e0000 21.67%,#5d0000 22.78%,#5d0000 23.89%,#250000 25%,#720000 26.11%,#7b0000 27.22%,#720000 29.44%,#7a0000 30.56%,#720000 31.67%,#7d0000 32.78%,#a90000 33.89%,#a80000 35%,#b50000 36.11%,#a50000 38.33%,#a70000 39.44%,#a30000 40.56%,#b20000 41.67%,#c00 42.78%,#e60000 45%,#ff1b00 46.11%,#f20 47.22%,#ff1900 48.33%,#ff2600 49.44%,#ff1e00 50.56%,#ff2900 51.67%,#ff1500 52.78%,#ff0d00 53.89%,#ff2a00 55%,#ff3200 56.11%,#ff2700 58.33%,#ff1800 59.44%,#ff4e00 61.67%,#ff3000 62.78%,#ff3f00 63.89%,#ff5400 65%,#f30 66.11%,#ff2f00 67.22%,#ff6e00 68.33%,#ff8600 70.56%,#fff000 71.67%,#ffde00 72.78%,#ff6700 73.89%,#e10000 75%,#ffe300 76.11%,#ffb400 77.22%,#ff3b00 78.33%,#ff6b00 79.44%,#ff5900 80.56%,#ff7100 81.67%,#ff4300 82.78%,#ff4300 83.89%,#ff7e00 85%,#ff7100 87.22%,#ff8200 88.33%,#ff9a00 89.44%,#ff0700 90.56%,#f90000 91.67%,#f40000 92.78%,#fd0000 93.89%,#b50000 95%,#a00 97.22%,#2c0000 98.33%,#250000 99.44%)"></i>
<i style="left:577.440px;background:linear-gradient(#1b0000 0.5556%,#1e0000 1.667%,#670000 2.778%,#810000 3.889%,#920000 5%,#930000 6.111%,#8b0000 7.222%,#910000 8.333%,#920000 9.444%,#9a0000 10.56%,#ff0100 11.67%,#f80000 13.89%,#ff1d00 15%,#ff0300 16.11%,#ff2500 17.22%,#ff1000 18.33%,#ff0100 20.56%,#ff0100 21.67%,#ff2a00 22.78%,#fc0000 23.89%,#c60000 25%,#ff1700 26.11%,#ff2300 27.22%,#ff3d00 28.33%,#ff1400 29.44%,#ff1300 30.56%,#ff2000 31.67%,#ff2800 32.78%,#ff0400 33.89%,#ff0100 35%,#f80000 36.11%,#fa0000 37.22%,#e90000 38.33%,#e50000 39.44%,#f40000 40.56%,#ea0000 42.78%,#e00 43.89%,#e20000 45%,#dc0000 47.22%,#e00000 48.33%,#f40000 49.44%,#e30000 50.56%,#e30000 52.78%,#d90000 53.89%,#e80000 55%,#eb0000 56.11%,#f60000 57.22%,#e70000 58.33%,#df0000 59.44%,#e10000 61.67%,#d40000 62.78%,#d20000 63.89%,#eb0000 65%,#e60000 66.11%,#d50000 67.22%,#ef0000 68.33%,#ff0100 69.44%,#fe0000 70.56%,#ff4500 71.67%,#ff2d00 72.78%,#f30 73.89%,#c60000 75%,#f20000 76.11%,#e10000 77.22%,#e60000 78.33%,#f40000 79.44%,#dc0000 80.56%,#ef0000 81.67%,#e40000 82.78%,#e00000 83.89%,#f20000 85%,#de0000 86.11%,#ec0000 87.22%,#e70000 88.33%,#bf0000 89.44%,#c90000 90.56%,#cb0000 91.67%,#bc0000 92.78%,#c80000 93.89%,#900000 95%,#860000 96.11%,#940000 97.22%,#290000 98.33%,#260000 99.44%)"></i>
</div>
<i style="left:595.485px;background:linear-gradient(#1b0000 0.5556%,#1e0000 1.667%,#670000 2.778%,#810000 3.889%,#920000 5%,#930000 6.111%,#8b0000 7.222%,#910000 8.333%,#920000 9.444%,#9a0000 10.56%,#ff0100 11.67%,#f80000 13.89%,#ff1d00 15%,#ff0300 16.11%,#ff2500 17.22%,#ff1000 18.33%,#ff0100 20.56%,#ff0100 21.67%,#ff2a00 22.78%,#fc0000 23.89%,#c60000 25%,#ff1700 26.11%,#ff2300 27.22%,#ff3d00 28.33%,#ff1400 29.44%,#ff1300 30.56%,#ff2000 31.67%,#ff2800 32.78%,#ff0400 33.89%,#ff0100 35%,#f80000 36.11%,#fa0000 37.22%,#e90000 38.33%,#e50000 39.44%,#f40000 40.56%,#ea0000 42.78%,#e00 43.89%,#e20000 45%,#dc0000 47.22%,#e00000 48.33%,#f40000 49.44%,#e30000 50.56%,#e30000 52.78%,#d90000 53.89%,#e80000 55%,#eb0000 56.11%,#f60000 57.22%,#e70000 58.33%,#df0000 59.44%,#e10000 61.67%,#d40000 62.78%,#d20000 63.89%,#eb0000 65%,#e60000 66.11%,#d50000 67.22%,#ef0000 68.33%,#ff0100 69.44%,#fe0000 70.56%,#ff4500 71.67%,#ff2d00 72.78%,#f30 73.89%,#c60000 75%,#f20000 76.11%,#e10000 77.22%,#e60000 78.33%,#f40000 79.44%,#dc0000 80.56%,#ef0000 81.67%,#e40000 82.78%,#e00000 83.89%,#f20000 85%,#de0000 86.11%,#ec0000 87.22%,#e70000 88.33%,#bf0000 89.44%,#c90000 90.56%,#cb0000 91.67%,#bc0000 92.78%,#c80000 93.89%,#900000 95%,#860000 96.11%,#940000 97.22%,#290000 98.33%,#260000 99.44%)"></i>
</div>
<svg width="1500" height="1095" viewBox="0 0 1500 1095">
<defs><clipPath id="cl"><rect x="105.25" y="16.50" width="600.00" height="420.80"/></clipPath></defs>
<path d="M127.63 437.30v-5.5M127.63 16.50v5.5M143.58 437.30v-5.5M143.58 16.50v5.5M155.96 437.30v-5.5M155.96 16.50v5.5M166.07 437.30v-5.5M166.07 16.50v5.5M174.62 437.30v-5.5M174.62 16.50v5.5M182.02 437.30v-5.5M182.02 16.50v5.5M188.56 437.30v-5.5M188.56 16.50v5.5M194.40 437.30v-11.0M194.40 16.50v11.0M232.84 437.30v-5.5M232.84 16.50v5.5M255.33 437.30v-5.5M255.33 16.50v5.5M271.28 437.30v-5.5M271.28 16.50v5.5M283.66 437.30v-5.5M283.66 16.50v5.5M293.77 437.30v-5.5M293.77 16.50v5.5M302.32 437.30v-5.5M302.32 16.50v5.5M309.72 437.30v-5.5M309.72 16.50v5.5M316.26 437.30v-5.5M316.26 16.50v5.5M322.10 437.30v-11.0M322.10 16.50v11.0M360.54 437.30v-5.5M360.54 16.50v5.5M383.03 437.30v-5.5M383.03 16.50v5.5M398.98 437.30v-5.5M398.98 16.50v5.5M411.36 437.30v-5.5M411.36 16.50v5.5M421.47 437.30v-5.5M421.47 16.50v5.5M430.02 437.30v-5.5M430.02 16.50v5.5M437.42 437.30v-5.5M437.42 16.50v5.5M443.96 437.30v-5.5M443.96 16.50v5.5M449.80 437.30v-11.0M449.80 16.50v11.0M488.24 437.30v-5.5M488.24 16.50v5.5M510.73 437.30v-5.5M510.73 16.50v5.5M526.68 437.30v-5.5M526.68 16.50v5.5M539.06 437.30v-5.5M539.06 16.50v5.5M549.17 437.30v-5.5M549.17 16.50v5.5M557.72 437.30v-5.5M557.72 16.50v5.5M565.12 437.30v-5.5M565.12 16.50v5.5M571.66 437.30v-5.5M571.66 16.50v5.5M577.50 437.30v-11.0M577.50 16.50v11.0M615.94 437.30v-5.5M615.94 16.50v5.5M638.43 437.30v-5.5M638.43 16.50v5.5M654.38 437.30v-5.5M654.38 16.50v5.5M666.76 437.30v-5.5M666.76 16.50v5.5M676.87 437.30v-5.5M676.87 16.50v5.5M685.42 437.30v-5.5M685.42 16.50v5.5M692.82 437.30v-5.5M692.82 16.50v5.5M699.36 437.30v-5.5M699.36 16.50v5.5M705.20 437.30v-11.0M705.20 16.50v11.0M105.25 437.30h11.0M705.25 437.30h-11.0M105.25 373.99h5.5M705.25 373.99h-5.5M105.25 336.95h5.5M705.25 336.95h-5.5M105.25 310.67h5.5M705.25 310.67h-5.5M105.25 290.29h5.5M705.25 290.29h-5.5M105.25 273.64h5.5M705.25 273.64h-5.5M105.25 259.55h5.5M705.25 259.55h-5.5M105.25 247.36h5.5M705.25 247.36h-5.5M105.25 236.60h5.5M705.25 236.60h-5.5M105.25 226.97h11.0M705.25 226.97h-11.0M105.25 163.66h5.5M705.25 163.66h-5.5M105.25 126.62h5.5M705.25 126.62h-5.5M105.25 100.35h5.5M705.25 100.35h-5.5M105.25 79.96h5.5M705.25 79.96h-5.5M105.25 63.31h5.5M705.25 63.31h-5.5M105.25 49.23h5.5M705.25 49.23h-5.5M105.25 37.03h5.5M705.25 37.03h-5.5M105.25 26.27h5.5M705.25 26.27h-5.5M105.25 16.65h11.0M705.25 16.65h-11.0" stroke="#000" stroke-width="1.4" fill="none"/>
<g clip-path="url(#cl)" fill="none" stroke="#000" stroke-width="2.7" stroke-linejoin="round">
<path d="M111.3 79.8 L233.7 79.8 L240.0 80.3 L244.0 81.6 L255.7 82.0 L266.7 82.4 L277.7 82.9 L288.7 83.5 L299.7 84.3 L310.7 85.3 L321.7 86.4 L332.0 87.6 L343.0 89.0 L353.3 90.8 L364.3 92.9 L374.5 95.4 L384.0 98.2 L394.3 101.6 L403.8 104.9 L413.2 109.2 L422.4 113.5 L432.0 117.9 L440.5 123.1 L448.6 128.8 L457.6 134.8 L466.6 141.2 L475.1 148.0 L483.2 155.7 L490.7 163.6 L498.1 171.5 L505.6 179.6 L513.1 187.7 L520.1 196.0 L526.9 204.6 L533.8 213.1 L540.2 221.8 L547.2 230.8 L553.6 239.8 L560.0 248.5 L566.4 257.5 L572.8 266.0 L579.2 275.2 L585.6 284.1 L591.6 293.1 L598.0 302.3 L604.2 311.9 L610.1 320.4 L651.3 385.1 L657.3 394.0 L663.6 403.3 L669.6 412.4 L676.0 421.3 L683.3 429.3 L692.0 434.7 L700.0 436.6 L720.0 437.2" stroke-dasharray="2.8 8.3" stroke-dashoffset="2.00"/>
<path d="M111.3 79.75 L233.7 79.75 C238 79.75 240.5 82.5 242.5 89.3 L245.3 102 C246.5 108 248.5 114 251.3 118.7 C254 124 257 129.5 260.9 131.1 L266 132.2 L306.2 132.2 C308.0 148.7 308.9 165.2 311.0 165.2 L336.7 165.2 C338.4 176.8 339.2 188.3 341.2 188.3 L355.7 188.3 C357.3 197.1 358.1 205.9 359.9 205.9 L370.6 205.9 C372.0 213.6 372.7 221.3 374.4 221.3 L380.3 221.3 C381.6 227.9 382.3 234.5 383.8 234.5 L390.4 234.5 C391.6 240.8 392.2 247.0 393.6 247.0 L398.1 247.0 C399.2 252.1 399.7 257.2 401.0 257.2 L405.3 257.2 C406.3 261.9 406.8 266.6 407.9 266.6 L411.8 266.6 C412.6 270.8 413.0 275.0 414.0 275.0 L417.3 275.0 C418.0 278.5 418.4 282.0 419.2 282.0 L422.6 282.0 C423.2 285.0 423.5 288.0 424.2 288.0 L427.0 288.0 C427.5 291.2 427.7 294.5 428.3 294.5 L432.47 294.50 L433.66 302.54 L436.45 302.54 L437.57 307.79 L440.17 307.79 L441.22 313.07 L443.65 313.07 L444.64 318.16 L446.93 318.16 L447.86 322.48 L450.03 322.48 L450.91 326.58 L452.96 326.58 L453.79 330.07 L455.74 330.07 L456.54 333.30 L458.39 333.30 L459.15 336.38 L460.92 336.38 L461.65 340.14 L463.34 340.14 L464.04 343.92 L465.66 343.92 L466.33 347.54 L467.89 347.54 L468.53 350.50 L470.03 350.50 L470.64 353.10 L472.09 353.10 L472.68 355.61 L474.07 355.61 L474.65 358.02 L475.99 358.02 L476.55 361.13 L477.84 361.13 L478.38 364.39 L479.64 364.39 L480.16 367.55 L481.38 367.55 L481.88 370.58 L483.06 370.58 L483.55 373.11 L484.69 373.11 L485.17 375.57 L486.28 375.57 L486.75 377.97 L487.83 377.97 L488.28 380.29 L489.33 380.29 L489.77 382.63 L490.79 382.63 L491.22 385.04 L492.22 385.04 L492.63 387.38 L493.61 387.38 L494.01 389.67 L494.96 389.67 L495.36 391.90 L496.28 391.90 L496.67 393.84 L497.58 393.84 L497.95 395.60 L498.84 395.60 L499.21 397.31 L500.07 397.31 L500.44 398.99 L501.28 398.99 L501.64 400.64 L502.46 400.64 L502.81 402.24 L503.62 402.24 L503.96 403.82 L504.75 403.82 L505.09 405.44 L505.86 405.44 L506.19 407.02 L506.95 407.02 L507.27 408.58 L508.02 408.58 L508.34 410.10 L509.07 410.10 L509.38 411.59 L510.10 411.59 L510.40 413.06 L511.11 413.06 L511.41 414.26 L512.10 414.26 L512.39 415.41 L513.07 415.41 L513.36 416.54 L514.03 416.54 L514.31 417.65 L514.97 417.65 L515.25 418.74 L515.90 418.74 L516.17 419.82 L516.81 419.82 L517.08 420.87 L517.70 420.87 L517.97 421.91 L518.59 421.91 L518.85 422.94 L519.45 422.94 L519.71 423.91 L520.31 423.91 L520.56 424.83 L521.15 424.83 L521.40 425.73 L521.98 425.73 L522.22 426.62 L522.79 426.62 L523.04 427.50 L523.60 427.50 L523.84 428.36 L524.39 428.36 L524.63 429.21 L525.17 429.21 L525.40 430.05 L525.94 430.05 L526.17 430.88 L526.71 430.88 L526.93 431.61 L527.46 431.61 L527.68 432.06 L528.20 432.06 L528.41 432.50 L528.93 432.50 L529.14 432.94 L529.65 432.94 L529.86 433.38 L530.36 433.38 L530.57 433.80 L531.06 433.80 L531.27 434.23 L531.76 434.23 L531.96 434.64 L532.44 434.64 L532.64 435.06 L533.12 435.06 L533.32 435.46 L533.79 435.46 L533.98 435.87 L534.45 435.87 L534.64 436.26 L535.10 436.26 L535.29 436.43 L535.75 436.43 L535.94 436.49 L536.38 436.49 L536.57 436.54 L537.01 436.54 L537.20 436.59 L537.64 436.59 L537.82 436.64 L538.26 436.64 L538.44 436.68 L538.87 436.68 L539.05 436.73 L539.47 436.73 L539.65 436.78 L540.07 436.78 L540.24 436.83 L540.66 436.83 L540.83 436.88 L541.24 436.88 L541.41 436.92 L541.82 436.92 L541.99 436.97 L542.39 436.97 L542.56 437.01 L542.96 437.01 L543.12 437.06 L543.52 437.06 L543.68 437.10 L544.07 437.10 L544.24 437.15 L544.62 437.15 L544.79 437.19 L545.17 437.19 L545.33 437.20 L545.70 437.20 L545.86 437.21 L546.24 437.21 L546.40 437.21 L546.77 437.21 L546.92 437.21 L547.29 437.21 L547.45 437.22 L547.81 437.22 L548.11 437.22 L720 437.3" stroke-dasharray="16.6 16.6" stroke-dashoffset="32.2"/>
<path d="M111.3 79.75 L233.7 79.75 C238 79.75 240.5 82.5 242.5 89.3 L245.5 104 L248.4 148 L251.7 220 L253.1 241 C254 256 255.6 266 258.4 274.6 C260 279.5 262 282.6 266.5 282.6 L310.6 282.6 L313.9 336.6 Q314.6 340.8 317.2 340.8 L340.6 340.8 L342.6 370.6 Q342.9 374.8 345.5 374.8 L360.0 374.8 L361.4 394.4 Q361.6 398.6 364.2 398.6 L373.7 398.6 L374.8 411.2 Q375.0 415.4 377.6 415.4 L385.2 415.4 L386.1 423.8 Q386.3 428.0 388.9 428.0 L394.6 428.0 L395.4 430.1 Q395.5 434.3 398.1 434.3 L402.3 434.3 L402.9 434.9 Q403.0 436.4 404.0 436.4 L409.0 436.4 L409.4 436.7 Q409.5 437.3 409.9 437.3 L720 437.3"/>
</g>
<rect x="105.25" y="16.50" width="600.00" height="420.80" fill="none" stroke="#000" stroke-width="2.6"/>
<text class="t" x="163.7" y="477.8">10<tspan class="sup" dx="-1.9" dy="-14.2">-2</tspan></text>
<text class="t" x="291.4" y="477.8">10<tspan class="sup" dx="-1.9" dy="-14.2">-1</tspan></text>
<text class="t" x="422.3" y="477.8">10<tspan class="sup" dx="-0.7" dy="-14.2">0</tspan></text>
<text class="t" x="550.0" y="477.8">10<tspan class="sup" dx="-0.7" dy="-14.2">1</tspan></text>
<text class="t" x="677.7" y="477.8">10<tspan class="sup" dx="-0.7" dy="-14.2">2</tspan></text>
<text class="t" x="39.5" y="449.3">10<tspan class="sup" dx="-1.0" dy="-14.2">0</tspan></text>
<text class="t" x="39.5" y="239.0">10<tspan class="sup" dx="-1.0" dy="-14.2">1</tspan></text>
<text class="t" x="39.5" y="28.6">10<tspan class="sup" dx="-1.0" dy="-14.2">2</tspan></text>
<text class="l" transform="translate(26.8 225.7) rotate(-90)" text-anchor="middle" style="font-size:32.9px">Lorentz factor</text>
<text class="mi" x="357.0" y="520.2" textLength="10.5" lengthAdjust="spacingAndGlyphs">t</text>
<text class="m" x="369.8" y="520.2" transform="translate(0 3)" textLength="14" lengthAdjust="spacingAndGlyphs" style="font-size:40px">/</text>
<text class="mi" x="386.0" y="520.2" textLength="24" lengthAdjust="spacingAndGlyphs">P</text>
<text class="mi s" x="407.0" y="528.1" textLength="43" lengthAdjust="spacingAndGlyphs">spin</text>
<text class="m" x="127.0" y="335.5" textLength="39.5" lengthAdjust="spacingAndGlyphs">sin</text>
<text class="mi" x="168.1" y="335.5" textLength="15.5" lengthAdjust="spacingAndGlyphs">θ</text>
<text class="mi s" x="182.0" y="343.9">p</text>
<text class="m s" x="195.0" y="343.9">,</text>
<text class="m s" x="201.5" y="343.9">0</text>
<text class="m" x="217.9" y="336.5" textLength="26.2" lengthAdjust="spacingAndGlyphs">=</text>
<text class="m" x="246.1" y="335.5" textLength="41.5" lengthAdjust="spacingAndGlyphs">0.1</text>
<text class="m" x="326.4" y="290.6" textLength="26.2" lengthAdjust="spacingAndGlyphs">=</text>
<text class="m" x="354.6" y="289.6" textLength="41.5" lengthAdjust="spacingAndGlyphs">0.2</text>
<text class="m" x="442.2" y="228.0" textLength="26.2" lengthAdjust="spacingAndGlyphs">=</text>
<text class="m" x="470.4" y="227.0" textLength="41.5" lengthAdjust="spacingAndGlyphs">0.5</text>
<path d="M877.50 437.30v-11.0M877.50 16.50v11.0M997.52 437.30v-11.0M997.52 16.50v11.0M1117.54 437.30v-11.0M1117.54 16.50v11.0M1237.56 437.30v-11.0M1237.56 16.50v11.0M1357.58 437.30v-11.0M1357.58 16.50v11.0M1477.60 437.30v-11.0M1477.60 16.50v11.0M877.50 437.30h11.0M1477.60 437.30h-11.0M877.50 390.54h11.0M1477.60 390.54h-11.0M877.50 343.79h11.0M1477.60 343.79h-11.0M877.50 297.03h11.0M1477.60 297.03h-11.0M877.50 250.28h11.0M1477.60 250.28h-11.0M877.50 203.52h11.0M1477.60 203.52h-11.0M877.50 156.77h11.0M1477.60 156.77h-11.0M877.50 110.01h11.0M1477.60 110.01h-11.0M877.50 63.26h11.0M1477.60 63.26h-11.0M877.50 16.50h11.0M1477.60 16.50h-11.0" stroke="#000" stroke-width="1.4" fill="none"/>
<rect x="877.50" y="16.50" width="600.10" height="420.80" fill="none" stroke="#000" stroke-width="2.6"/>
<text class="t" x="879.4" y="469.4" text-anchor="middle">0.0</text>
<text class="t" x="999.4" y="469.4" text-anchor="middle">0.2</text>
<text class="t" x="1119.4" y="469.4" text-anchor="middle">0.4</text>
<text class="t" x="1239.5" y="469.4" text-anchor="middle">0.6</text>
<text class="t" x="1359.5" y="469.4" text-anchor="middle">0.8</text>
<text class="t" x="1479.5" y="469.4" text-anchor="middle">1.0</text>
<text class="t" x="871.8" y="447.5" text-anchor="end">0</text>
<text class="t" x="871.8" y="400.7" text-anchor="end">20</text>
<text class="t" x="871.8" y="354.0" text-anchor="end">40</text>
<text class="t" x="871.8" y="307.2" text-anchor="end">60</text>
<text class="t" x="871.8" y="260.5" text-anchor="end">80</text>
<text class="t" x="871.8" y="213.7" text-anchor="end">100</text>
<text class="t" x="871.8" y="167.0" text-anchor="end">120</text>
<text class="t" x="871.8" y="120.2" text-anchor="end">140</text>
<text class="t" x="871.8" y="73.5" text-anchor="end">160</text>
<text class="t" x="871.8" y="26.7" text-anchor="end">180</text>
<text class="m" x="1167.0" y="505.1" textLength="21" lengthAdjust="spacingAndGlyphs" stroke="#000" stroke-width="0.5">Φ</text>
<text class="mi" transform="translate(796.5 228.1) rotate(-90)" text-anchor="middle">ζ</text>
<rect x="1292.3" y="56.8" width="172.6" height="48.2" fill="#fff" stroke="#000" stroke-width="2.4"/>
<text class="m" x="1297.9" y="85.9" textLength="39.5" lengthAdjust="spacingAndGlyphs">sin</text>
<text class="mi" x="1339.0" y="85.9" textLength="15.5" lengthAdjust="spacingAndGlyphs">θ</text>
<text class="mi s" x="1352.9" y="94.3">p</text>
<text class="m s" x="1365.9" y="94.3">,</text>
<text class="m s" x="1372.4" y="94.3">0</text>
<text class="m" x="1388.8" y="86.9" textLength="26.2" lengthAdjust="spacingAndGlyphs">=</text>
<text class="m" x="1417.0" y="85.9" textLength="41.5" lengthAdjust="spacingAndGlyphs">0.1</text>
<path d="M105.25 1027.20v-11.0M105.25 606.00v11.0M225.25 1027.20v-11.0M225.25 606.00v11.0M345.25 1027.20v-11.0M345.25 606.00v11.0M465.25 1027.20v-11.0M465.25 606.00v11.0M585.25 1027.20v-11.0M585.25 606.00v11.0M705.25 1027.20v-11.0M705.25 606.00v11.0M105.25 1027.20h11.0M705.25 1027.20h-11.0M105.25 980.40h11.0M705.25 980.40h-11.0M105.25 933.60h11.0M705.25 933.60h-11.0M105.25 886.80h11.0M705.25 886.80h-11.0M105.25 840.00h11.0M705.25 840.00h-11.0M105.25 793.20h11.0M705.25 793.20h-11.0M105.25 746.40h11.0M705.25 746.40h-11.0M105.25 699.60h11.0M705.25 699.60h-11.0M105.25 652.80h11.0M705.25 652.80h-11.0M105.25 606.00h11.0M705.25 606.00h-11.0" stroke="#000" stroke-width="1.4" fill="none"/>
<rect x="105.25" y="606.00" width="600.00" height="421.20" fill="none" stroke="#000" stroke-width="2.6"/>
<text class="t" x="107.2" y="1059.3" text-anchor="middle">0.0</text>
<text class="t" x="227.2" y="1059.3" text-anchor="middle">0.2</text>
<text class="t" x="347.1" y="1059.3" text-anchor="middle">0.4</text>
<text class="t" x="467.1" y="1059.3" text-anchor="middle">0.6</text>
<text class="t" x="587.1" y="1059.3" text-anchor="middle">0.8</text>
<text class="t" x="707.1" y="1059.3" text-anchor="middle">1.0</text>
<text class="t" x="99.5" y="1037.4" text-anchor="end">0</text>
<text class="t" x="99.5" y="990.6" text-anchor="end">20</text>
<text class="t" x="99.5" y="943.8" text-anchor="end">40</text>
<text class="t" x="99.5" y="897.0" text-anchor="end">60</text>
<text class="t" x="99.5" y="850.2" text-anchor="end">80</text>
<text class="t" x="99.5" y="803.4" text-anchor="end">100</text>
<text class="t" x="99.5" y="756.6" text-anchor="end">120</text>
<text class="t" x="99.5" y="709.8" text-anchor="end">140</text>
<text class="t" x="99.5" y="663.0" text-anchor="end">160</text>
<text class="t" x="99.5" y="616.2" text-anchor="end">180</text>
<text class="m" x="394.6" y="1095.0" textLength="21" lengthAdjust="spacingAndGlyphs" stroke="#000" stroke-width="0.5">Φ</text>
<text class="mi" transform="translate(24.2 817.8) rotate(-90)" text-anchor="middle">ζ</text>
<rect x="519.8" y="646.5" width="172.6" height="48.2" fill="#fff" stroke="#000" stroke-width="2.4"/>
<text class="m" x="525.4" y="675.6" textLength="39.5" lengthAdjust="spacingAndGlyphs">sin</text>
<text class="mi" x="566.5" y="675.6" textLength="15.5" lengthAdjust="spacingAndGlyphs">θ</text>
<text class="mi s" x="580.4" y="684.0">p</text>
<text class="m s" x="593.4" y="684.0">,</text>
<text class="m s" x="599.9" y="684.0">0</text>
<text class="m" x="616.3" y="676.6" textLength="26.2" lengthAdjust="spacingAndGlyphs">=</text>
<text class="m" x="644.5" y="675.6" textLength="41.5" lengthAdjust="spacingAndGlyphs">0.2</text>
<path d="M877.50 1027.20v-11.0M877.50 606.00v11.0M997.52 1027.20v-11.0M997.52 606.00v11.0M1117.54 1027.20v-11.0M1117.54 606.00v11.0M1237.56 1027.20v-11.0M1237.56 606.00v11.0M1357.58 1027.20v-11.0M1357.58 606.00v11.0M1477.60 1027.20v-11.0M1477.60 606.00v11.0M877.50 1027.20h11.0M1477.60 1027.20h-11.0M877.50 980.40h11.0M1477.60 980.40h-11.0M877.50 933.60h11.0M1477.60 933.60h-11.0M877.50 886.80h11.0M1477.60 886.80h-11.0M877.50 840.00h11.0M1477.60 840.00h-11.0M877.50 793.20h11.0M1477.60 793.20h-11.0M877.50 746.40h11.0M1477.60 746.40h-11.0M877.50 699.60h11.0M1477.60 699.60h-11.0M877.50 652.80h11.0M1477.60 652.80h-11.0M877.50 606.00h11.0M1477.60 606.00h-11.0" stroke="#000" stroke-width="1.4" fill="none"/>
<rect x="877.50" y="606.00" width="600.10" height="421.20" fill="none" stroke="#000" stroke-width="2.6"/>
<text class="t" x="879.4" y="1059.3" text-anchor="middle">0.0</text>
<text class="t" x="999.4" y="1059.3" text-anchor="middle">0.2</text>
<text class="t" x="1119.4" y="1059.3" text-anchor="middle">0.4</text>
<text class="t" x="1239.5" y="1059.3" text-anchor="middle">0.6</text>
<text class="t" x="1359.5" y="1059.3" text-anchor="middle">0.8</text>
<text class="t" x="1479.5" y="1059.3" text-anchor="middle">1.0</text>
<text class="t" x="871.8" y="1037.4" text-anchor="end">0</text>
<text class="t" x="871.8" y="990.6" text-anchor="end">20</text>
<text class="t" x="871.8" y="943.8" text-anchor="end">40</text>
<text class="t" x="871.8" y="897.0" text-anchor="end">60</text>
<text class="t" x="871.8" y="850.2" text-anchor="end">80</text>
<text class="t" x="871.8" y="803.4" text-anchor="end">100</text>
<text class="t" x="871.8" y="756.6" text-anchor="end">120</text>
<text class="t" x="871.8" y="709.8" text-anchor="end">140</text>
<text class="t" x="871.8" y="663.0" text-anchor="end">160</text>
<text class="t" x="871.8" y="616.2" text-anchor="end">180</text>
<text class="m" x="1167.0" y="1095.0" textLength="21" lengthAdjust="spacingAndGlyphs" stroke="#000" stroke-width="0.5">Φ</text>
<text class="mi" transform="translate(796.5 817.8) rotate(-90)" text-anchor="middle">ζ</text>
<rect x="1292.3" y="646.8" width="172.6" height="48.2" fill="#fff" stroke="#000" stroke-width="2.4"/>
<text class="m" x="1297.9" y="675.9" textLength="39.5" lengthAdjust="spacingAndGlyphs">sin</text>
<text class="mi" x="1339.0" y="675.9" textLength="15.5" lengthAdjust="spacingAndGlyphs">θ</text>
<text class="mi s" x="1352.9" y="684.3">p</text>
<text class="m s" x="1365.9" y="684.3">,</text>
<text class="m s" x="1372.4" y="684.3">0</text>
<text class="m" x="1388.8" y="676.9" textLength="26.2" lengthAdjust="spacingAndGlyphs">=</text>
<text class="m" x="1417.0" y="675.9" textLength="41.5" lengthAdjust="spacingAndGlyphs">0.5</text>
</svg>
</body></html>
